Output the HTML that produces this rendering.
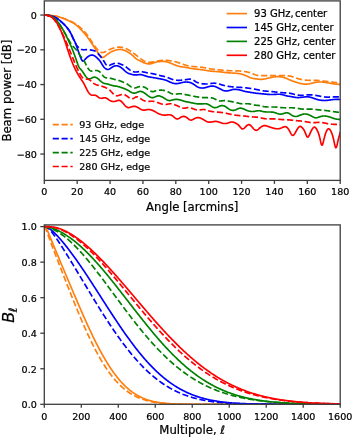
<!DOCTYPE html>
<html lang="en"><head><meta charset="utf-8"><title>Beam profiles</title>
<style>html,body{margin:0;padding:0;background:#fff;}body{width:352px;height:439px;overflow:hidden;}</style>
</head><body>
<svg width="352" height="439" viewBox="0 0 352 439" style="display:block;font-family:'DejaVu Sans', 'Liberation Sans', sans-serif">
<rect width="352" height="439" fill="#ffffff"/>
<defs>
<clipPath id="ct"><rect x="44.3" y="0.9" width="295.9" height="179.5"/></clipPath>
<clipPath id="cb"><rect x="44.3" y="224.9" width="295.9" height="179.4"/></clipPath>
</defs>
<g clip-path="url(#ct)" fill="none" stroke-width="1.67" stroke-linejoin="round">
<path d="M44.30,15.05 L44.80,15.07 L45.30,15.09 L45.80,15.10 L46.30,15.12 L46.80,15.15 L47.30,15.17 L47.80,15.19 L48.30,15.22 L48.80,15.25 L49.30,15.29 L49.80,15.32 L50.30,15.36 L50.80,15.41 L51.30,15.46 L51.80,15.51 L52.30,15.57 L52.80,15.64 L53.30,15.71 L53.80,15.79 L54.30,15.87 L54.80,15.96 L55.30,16.06 L55.80,16.16 L56.30,16.27 L56.80,16.38 L57.30,16.50 L57.80,16.63 L58.30,16.76 L58.80,16.90 L59.30,17.05 L59.80,17.20 L60.30,17.35 L60.80,17.52 L61.30,17.69 L61.80,17.86 L62.30,18.04 L62.80,18.22 L63.30,18.40 L63.80,18.59 L64.30,18.79 L64.80,18.98 L65.30,19.18 L65.80,19.38 L66.30,19.59 L66.80,19.79 L67.30,20.01 L67.80,20.22 L68.30,20.44 L68.80,20.67 L69.30,20.90 L69.80,21.14 L70.30,21.39 L70.80,21.64 L71.30,21.90 L71.80,22.17 L72.30,22.44 L72.80,22.73 L73.30,23.03 L73.80,23.34 L74.30,23.67 L74.80,24.01 L75.30,24.37 L75.80,24.74 L76.30,25.14 L76.80,25.55 L77.30,25.99 L77.80,26.44 L78.30,26.90 L78.80,27.38 L79.30,27.87 L79.80,28.37 L80.30,28.87 L80.80,29.39 L81.30,29.91 L81.80,30.44 L82.30,30.98 L82.80,31.53 L83.30,32.08 L83.80,32.65 L84.30,33.23 L84.80,33.82 L85.30,34.43 L85.80,35.05 L86.30,35.68 L86.80,36.34 L87.30,37.01 L87.80,37.69 L88.30,38.38 L88.80,39.09 L89.30,39.81 L89.80,40.53 L90.30,41.26 L90.80,42.00 L91.30,42.75 L91.80,43.50 L92.30,44.25 L92.80,45.00 L93.30,45.75 L93.80,46.51 L94.30,47.26 L94.80,48.01 L95.30,48.76 L95.80,49.50 L96.30,50.24 L96.80,50.97 L97.30,51.69 L97.80,52.40 L98.30,53.09 L98.80,53.77 L99.30,54.42 L99.80,55.05 L100.30,55.66 L100.80,56.22 L101.30,56.70 L101.80,57.08 L102.30,57.32 L102.80,57.40 L103.30,57.30 L103.80,57.07 L104.30,56.74 L104.80,56.38 L105.30,55.99 L105.80,55.60 L106.30,55.20 L106.80,54.81 L107.30,54.43 L107.80,54.06 L108.30,53.70 L108.80,53.35 L109.30,53.02 L109.80,52.70 L110.30,52.39 L110.80,52.11 L111.30,51.84 L111.80,51.59 L112.30,51.36 L112.80,51.15 L113.30,50.94 L113.80,50.76 L114.30,50.58 L114.80,50.42 L115.30,50.27 L115.80,50.13 L116.30,50.00 L116.80,49.88 L117.30,49.76 L117.80,49.66 L118.30,49.58 L118.80,49.51 L119.30,49.46 L119.80,49.43 L120.30,49.42 L120.80,49.45 L121.30,49.50 L121.80,49.58 L122.30,49.69 L122.80,49.83 L123.30,49.99 L123.80,50.17 L124.30,50.37 L124.80,50.59 L125.30,50.82 L125.80,51.05 L126.30,51.30 L126.80,51.55 L127.30,51.81 L127.80,52.08 L128.30,52.36 L128.80,52.65 L129.30,52.96 L129.80,53.29 L130.30,53.63 L130.80,54.00 L131.30,54.40 L131.80,54.82 L132.30,55.26 L132.80,55.72 L133.30,56.18 L133.80,56.65 L134.30,57.11 L134.80,57.56 L135.30,58.00 L135.80,58.41 L136.30,58.80 L136.80,59.15 L137.30,59.47 L137.80,59.77 L138.30,60.05 L138.80,60.31 L139.30,60.56 L139.80,60.80 L140.30,61.05 L140.80,61.29 L141.30,61.53 L141.80,61.77 L142.30,62.01 L142.80,62.24 L143.30,62.46 L143.80,62.67 L144.30,62.87 L144.80,63.06 L145.30,63.24 L145.80,63.40 L146.30,63.55 L146.80,63.67 L147.30,63.78 L147.80,63.86 L148.30,63.91 L148.80,63.94 L149.30,63.94 L149.80,63.91 L150.30,63.85 L150.80,63.75 L151.30,63.63 L151.80,63.49 L152.30,63.34 L152.80,63.18 L153.30,63.00 L153.80,62.83 L154.30,62.66 L154.80,62.50 L155.30,62.35 L155.80,62.21 L156.30,62.09 L156.80,61.97 L157.30,61.87 L157.80,61.78 L158.30,61.69 L158.80,61.62 L159.30,61.56 L159.80,61.50 L160.30,61.45 L160.80,61.41 L161.30,61.38 L161.80,61.37 L162.30,61.36 L162.80,61.36 L163.30,61.38 L163.80,61.41 L164.30,61.45 L164.80,61.51 L165.30,61.59 L165.80,61.68 L166.30,61.78 L166.80,61.90 L167.30,62.03 L167.80,62.17 L168.30,62.32 L168.80,62.48 L169.30,62.66 L169.80,62.84 L170.30,63.03 L170.80,63.22 L171.30,63.43 L171.80,63.63 L172.30,63.84 L172.80,64.05 L173.30,64.26 L173.80,64.47 L174.30,64.68 L174.80,64.88 L175.30,65.08 L175.80,65.27 L176.30,65.45 L176.80,65.62 L177.30,65.79 L177.80,65.95 L178.30,66.09 L178.80,66.23 L179.30,66.35 L179.80,66.47 L180.30,66.57 L180.80,66.66 L181.30,66.74 L181.80,66.82 L182.30,66.89 L182.80,66.96 L183.30,67.03 L183.80,67.10 L184.30,67.17 L184.80,67.25 L185.30,67.33 L185.80,67.41 L186.30,67.50 L186.80,67.60 L187.30,67.69 L187.80,67.79 L188.30,67.88 L188.80,67.98 L189.30,68.08 L189.80,68.18 L190.30,68.27 L190.80,68.37 L191.30,68.46 L191.80,68.55 L192.30,68.64 L192.80,68.72 L193.30,68.80 L193.80,68.87 L194.30,68.94 L194.80,69.01 L195.30,69.07 L195.80,69.12 L196.30,69.18 L196.80,69.23 L197.30,69.28 L197.80,69.32 L198.30,69.37 L198.80,69.42 L199.30,69.47 L199.80,69.52 L200.30,69.57 L200.80,69.63 L201.30,69.69 L201.80,69.75 L202.30,69.81 L202.80,69.88 L203.30,69.96 L203.80,70.04 L204.30,70.12 L204.80,70.21 L205.30,70.29 L205.80,70.38 L206.30,70.46 L206.80,70.55 L207.30,70.63 L207.80,70.72 L208.30,70.80 L208.80,70.87 L209.30,70.95 L209.80,71.01 L210.30,71.08 L210.80,71.13 L211.30,71.18 L211.80,71.23 L212.30,71.27 L212.80,71.31 L213.30,71.34 L213.80,71.38 L214.30,71.41 L214.80,71.43 L215.30,71.46 L215.80,71.49 L216.30,71.52 L216.80,71.55 L217.30,71.59 L217.80,71.62 L218.30,71.66 L218.80,71.71 L219.30,71.76 L219.80,71.81 L220.30,71.87 L220.80,71.93 L221.30,71.99 L221.80,72.06 L222.30,72.13 L222.80,72.19 L223.30,72.26 L223.80,72.33 L224.30,72.39 L224.80,72.45 L225.30,72.52 L225.80,72.57 L226.30,72.63 L226.80,72.68 L227.30,72.73 L227.80,72.77 L228.30,72.81 L228.80,72.84 L229.30,72.87 L229.80,72.90 L230.30,72.93 L230.80,72.96 L231.30,72.98 L231.80,73.00 L232.30,73.03 L232.80,73.05 L233.30,73.08 L233.80,73.11 L234.30,73.14 L234.80,73.17 L235.30,73.21 L235.80,73.25 L236.30,73.29 L236.80,73.34 L237.30,73.40 L237.80,73.46 L238.30,73.52 L238.80,73.60 L239.30,73.68 L239.80,73.77 L240.30,73.87 L240.80,73.97 L241.30,74.09 L241.80,74.22 L242.30,74.36 L242.80,74.51 L243.30,74.67 L243.80,74.84 L244.30,75.02 L244.80,75.22 L245.30,75.42 L245.80,75.63 L246.30,75.85 L246.80,76.07 L247.30,76.30 L247.80,76.53 L248.30,76.76 L248.80,76.98 L249.30,77.20 L249.80,77.41 L250.30,77.62 L250.80,77.81 L251.30,77.98 L251.80,78.14 L252.30,78.28 L252.80,78.40 L253.30,78.51 L253.80,78.60 L254.30,78.68 L254.80,78.75 L255.30,78.81 L255.80,78.88 L256.30,78.94 L256.80,79.00 L257.30,79.06 L257.80,79.12 L258.30,79.17 L258.80,79.22 L259.30,79.26 L259.80,79.30 L260.30,79.32 L260.80,79.34 L261.30,79.34 L261.80,79.33 L262.30,79.30 L262.80,79.26 L263.30,79.20 L263.80,79.13 L264.30,79.05 L264.80,78.95 L265.30,78.85 L265.80,78.75 L266.30,78.63 L266.80,78.51 L267.30,78.39 L267.80,78.27 L268.30,78.15 L268.80,78.03 L269.30,77.91 L269.80,77.80 L270.30,77.69 L270.80,77.58 L271.30,77.48 L271.80,77.38 L272.30,77.28 L272.80,77.19 L273.30,77.11 L273.80,77.03 L274.30,76.96 L274.80,76.90 L275.30,76.84 L275.80,76.79 L276.30,76.75 L276.80,76.72 L277.30,76.70 L277.80,76.69 L278.30,76.68 L278.80,76.69 L279.30,76.71 L279.80,76.75 L280.30,76.80 L280.80,76.86 L281.30,76.93 L281.80,77.02 L282.30,77.13 L282.80,77.24 L283.30,77.37 L283.80,77.51 L284.30,77.67 L284.80,77.83 L285.30,78.01 L285.80,78.19 L286.30,78.39 L286.80,78.59 L287.30,78.80 L287.80,79.02 L288.30,79.24 L288.80,79.47 L289.30,79.69 L289.80,79.91 L290.30,80.13 L290.80,80.34 L291.30,80.54 L291.80,80.74 L292.30,80.93 L292.80,81.11 L293.30,81.29 L293.80,81.47 L294.30,81.64 L294.80,81.81 L295.30,81.98 L295.80,82.14 L296.30,82.30 L296.80,82.46 L297.30,82.62 L297.80,82.77 L298.30,82.92 L298.80,83.06 L299.30,83.20 L299.80,83.33 L300.30,83.46 L300.80,83.58 L301.30,83.68 L301.80,83.78 L302.30,83.87 L302.80,83.94 L303.30,84.01 L303.80,84.06 L304.30,84.10 L304.80,84.13 L305.30,84.14 L305.80,84.15 L306.30,84.14 L306.80,84.11 L307.30,84.08 L307.80,84.03 L308.30,83.97 L308.80,83.90 L309.30,83.81 L309.80,83.72 L310.30,83.61 L310.80,83.50 L311.30,83.38 L311.80,83.26 L312.30,83.13 L312.80,83.01 L313.30,82.88 L313.80,82.76 L314.30,82.65 L314.80,82.54 L315.30,82.44 L315.80,82.35 L316.30,82.27 L316.80,82.20 L317.30,82.14 L317.80,82.09 L318.30,82.05 L318.80,82.02 L319.30,81.99 L319.80,81.98 L320.30,81.98 L320.80,81.98 L321.30,82.00 L321.80,82.03 L322.30,82.06 L322.80,82.10 L323.30,82.15 L323.80,82.21 L324.30,82.28 L324.80,82.35 L325.30,82.42 L325.80,82.50 L326.30,82.59 L326.80,82.67 L327.30,82.76 L327.80,82.86 L328.30,82.95 L328.80,83.04 L329.30,83.14 L329.80,83.23 L330.30,83.33 L330.80,83.42 L331.30,83.51 L331.80,83.60 L332.30,83.68 L332.80,83.76 L333.30,83.83 L333.80,83.90 L334.30,83.96 L334.80,84.02 L335.30,84.07 L335.80,84.12 L336.30,84.16 L336.80,84.20 L337.30,84.23 L337.80,84.27 L338.30,84.30 L338.80,84.33 L339.30,84.35 L339.80,84.38 L340.20,84.40" stroke="#ff7f0e" stroke-linecap="square"/>
<path d="M44.30,15.05 L44.80,15.07 L45.30,15.08 L45.80,15.10 L46.30,15.12 L46.80,15.14 L47.30,15.17 L47.80,15.19 L48.30,15.22 L48.80,15.25 L49.30,15.28 L49.80,15.32 L50.30,15.36 L50.80,15.41 L51.30,15.46 L51.80,15.51 L52.30,15.57 L52.80,15.64 L53.30,15.71 L53.80,15.79 L54.30,15.88 L54.80,15.97 L55.30,16.07 L55.80,16.17 L56.30,16.28 L56.80,16.39 L57.30,16.51 L57.80,16.63 L58.30,16.76 L58.80,16.90 L59.30,17.04 L59.80,17.19 L60.30,17.34 L60.80,17.50 L61.30,17.66 L61.80,17.82 L62.30,17.99 L62.80,18.16 L63.30,18.34 L63.80,18.52 L64.30,18.70 L64.80,18.89 L65.30,19.08 L65.80,19.27 L66.30,19.46 L66.80,19.66 L67.30,19.86 L67.80,20.06 L68.30,20.27 L68.80,20.48 L69.30,20.70 L69.80,20.91 L70.30,21.14 L70.80,21.37 L71.30,21.60 L71.80,21.84 L72.30,22.08 L72.80,22.33 L73.30,22.60 L73.80,22.87 L74.30,23.15 L74.80,23.44 L75.30,23.75 L75.80,24.07 L76.30,24.40 L76.80,24.76 L77.30,25.12 L77.80,25.50 L78.30,25.90 L78.80,26.30 L79.30,26.72 L79.80,27.14 L80.30,27.58 L80.80,28.02 L81.30,28.47 L81.80,28.93 L82.30,29.40 L82.80,29.88 L83.30,30.38 L83.80,30.89 L84.30,31.42 L84.80,31.97 L85.30,32.55 L85.80,33.15 L86.30,33.77 L86.80,34.41 L87.30,35.08 L87.80,35.76 L88.30,36.46 L88.80,37.17 L89.30,37.90 L89.80,38.65 L90.30,39.41 L90.80,40.17 L91.30,40.94 L91.80,41.71 L92.30,42.47 L92.80,43.23 L93.30,43.98 L93.80,44.71 L94.30,45.43 L94.80,46.12 L95.30,46.79 L95.80,47.44 L96.30,48.07 L96.80,48.67 L97.30,49.24 L97.80,49.79 L98.30,50.31 L98.80,50.79 L99.30,51.22 L99.80,51.61 L100.30,51.94 L100.80,52.20 L101.30,52.39 L101.80,52.50 L102.30,52.55 L102.80,52.53 L103.30,52.44 L103.80,52.30 L104.30,52.12 L104.80,51.90 L105.30,51.65 L105.80,51.39 L106.30,51.11 L106.80,50.84 L107.30,50.57 L107.80,50.32 L108.30,50.07 L108.80,49.84 L109.30,49.62 L109.80,49.41 L110.30,49.21 L110.80,49.01 L111.30,48.83 L111.80,48.65 L112.30,48.48 L112.80,48.32 L113.30,48.17 L113.80,48.02 L114.30,47.89 L114.80,47.76 L115.30,47.64 L115.80,47.54 L116.30,47.44 L116.80,47.36 L117.30,47.29 L117.80,47.24 L118.30,47.20 L118.80,47.17 L119.30,47.16 L119.80,47.17 L120.30,47.19 L120.80,47.22 L121.30,47.28 L121.80,47.35 L122.30,47.44 L122.80,47.55 L123.30,47.67 L123.80,47.81 L124.30,47.97 L124.80,48.15 L125.30,48.34 L125.80,48.55 L126.30,48.77 L126.80,49.00 L127.30,49.25 L127.80,49.50 L128.30,49.77 L128.80,50.06 L129.30,50.35 L129.80,50.65 L130.30,50.96 L130.80,51.28 L131.30,51.61 L131.80,51.94 L132.30,52.29 L132.80,52.64 L133.30,53.00 L133.80,53.37 L134.30,53.74 L134.80,54.11 L135.30,54.50 L135.80,54.88 L136.30,55.27 L136.80,55.66 L137.30,56.06 L137.80,56.46 L138.30,56.86 L138.80,57.26 L139.30,57.65 L139.80,58.05 L140.30,58.43 L140.80,58.80 L141.30,59.17 L141.80,59.52 L142.30,59.85 L142.80,60.17 L143.30,60.47 L143.80,60.76 L144.30,61.02 L144.80,61.26 L145.30,61.47 L145.80,61.66 L146.30,61.82 L146.80,61.96 L147.30,62.08 L147.80,62.17 L148.30,62.24 L148.80,62.28 L149.30,62.30 L149.80,62.30 L150.30,62.28 L150.80,62.23 L151.30,62.17 L151.80,62.10 L152.30,62.01 L152.80,61.91 L153.30,61.81 L153.80,61.71 L154.30,61.60 L154.80,61.50 L155.30,61.40 L155.80,61.31 L156.30,61.23 L156.80,61.15 L157.30,61.07 L157.80,60.99 L158.30,60.92 L158.80,60.85 L159.30,60.77 L159.80,60.70 L160.30,60.63 L160.80,60.55 L161.30,60.48 L161.80,60.41 L162.30,60.35 L162.80,60.30 L163.30,60.26 L163.80,60.22 L164.30,60.20 L164.80,60.20 L165.30,60.21 L165.80,60.24 L166.30,60.27 L166.80,60.32 L167.30,60.38 L167.80,60.44 L168.30,60.51 L168.80,60.57 L169.30,60.64 L169.80,60.71 L170.30,60.78 L170.80,60.85 L171.30,60.91 L171.80,60.98 L172.30,61.06 L172.80,61.14 L173.30,61.22 L173.80,61.32 L174.30,61.43 L174.80,61.55 L175.30,61.68 L175.80,61.83 L176.30,61.98 L176.80,62.14 L177.30,62.31 L177.80,62.49 L178.30,62.67 L178.80,62.85 L179.30,63.03 L179.80,63.21 L180.30,63.39 L180.80,63.56 L181.30,63.74 L181.80,63.91 L182.30,64.08 L182.80,64.25 L183.30,64.41 L183.80,64.57 L184.30,64.74 L184.80,64.89 L185.30,65.05 L185.80,65.20 L186.30,65.35 L186.80,65.49 L187.30,65.63 L187.80,65.75 L188.30,65.87 L188.80,65.98 L189.30,66.08 L189.80,66.17 L190.30,66.25 L190.80,66.32 L191.30,66.38 L191.80,66.43 L192.30,66.47 L192.80,66.52 L193.30,66.55 L193.80,66.59 L194.30,66.62 L194.80,66.65 L195.30,66.68 L195.80,66.71 L196.30,66.74 L196.80,66.77 L197.30,66.81 L197.80,66.84 L198.30,66.88 L198.80,66.92 L199.30,66.96 L199.80,67.01 L200.30,67.06 L200.80,67.11 L201.30,67.17 L201.80,67.24 L202.30,67.32 L202.80,67.40 L203.30,67.48 L203.80,67.57 L204.30,67.67 L204.80,67.77 L205.30,67.87 L205.80,67.97 L206.30,68.08 L206.80,68.18 L207.30,68.29 L207.80,68.39 L208.30,68.49 L208.80,68.59 L209.30,68.69 L209.80,68.78 L210.30,68.87 L210.80,68.95 L211.30,69.02 L211.80,69.09 L212.30,69.16 L212.80,69.22 L213.30,69.28 L213.80,69.33 L214.30,69.39 L214.80,69.44 L215.30,69.48 L215.80,69.53 L216.30,69.58 L216.80,69.62 L217.30,69.67 L217.80,69.71 L218.30,69.76 L218.80,69.81 L219.30,69.86 L219.80,69.91 L220.30,69.97 L220.80,70.02 L221.30,70.07 L221.80,70.13 L222.30,70.18 L222.80,70.24 L223.30,70.29 L223.80,70.34 L224.30,70.39 L224.80,70.43 L225.30,70.48 L225.80,70.52 L226.30,70.55 L226.80,70.59 L227.30,70.62 L227.80,70.64 L228.30,70.66 L228.80,70.68 L229.30,70.70 L229.80,70.71 L230.30,70.72 L230.80,70.73 L231.30,70.73 L231.80,70.74 L232.30,70.75 L232.80,70.75 L233.30,70.76 L233.80,70.77 L234.30,70.78 L234.80,70.79 L235.30,70.80 L235.80,70.82 L236.30,70.84 L236.80,70.86 L237.30,70.88 L237.80,70.91 L238.30,70.94 L238.80,70.97 L239.30,71.00 L239.80,71.04 L240.30,71.08 L240.80,71.12 L241.30,71.17 L241.80,71.22 L242.30,71.27 L242.80,71.33 L243.30,71.39 L243.80,71.45 L244.30,71.52 L244.80,71.59 L245.30,71.66 L245.80,71.74 L246.30,71.83 L246.80,71.92 L247.30,72.02 L247.80,72.13 L248.30,72.24 L248.80,72.36 L249.30,72.50 L249.80,72.64 L250.30,72.79 L250.80,72.96 L251.30,73.13 L251.80,73.32 L252.30,73.52 L252.80,73.73 L253.30,73.95 L253.80,74.16 L254.30,74.37 L254.80,74.58 L255.30,74.77 L255.80,74.94 L256.30,75.09 L256.80,75.21 L257.30,75.31 L257.80,75.40 L258.30,75.46 L258.80,75.51 L259.30,75.55 L259.80,75.58 L260.30,75.59 L260.80,75.60 L261.30,75.60 L261.80,75.60 L262.30,75.60 L262.80,75.60 L263.30,75.60 L263.80,75.60 L264.30,75.60 L264.80,75.60 L265.30,75.60 L265.80,75.60 L266.30,75.60 L266.80,75.60 L267.30,75.60 L267.80,75.60 L268.30,75.60 L268.80,75.60 L269.30,75.60 L269.80,75.60 L270.30,75.60 L270.80,75.60 L271.30,75.60 L271.80,75.60 L272.30,75.60 L272.80,75.60 L273.30,75.60 L273.80,75.60 L274.30,75.60 L274.80,75.60 L275.30,75.60 L275.80,75.60 L276.30,75.60 L276.80,75.59 L277.30,75.59 L277.80,75.59 L278.30,75.59 L278.80,75.59 L279.30,75.59 L279.80,75.59 L280.30,75.59 L280.80,75.60 L281.30,75.60 L281.80,75.61 L282.30,75.61 L282.80,75.62 L283.30,75.63 L283.80,75.65 L284.30,75.66 L284.80,75.68 L285.30,75.70 L285.80,75.72 L286.30,75.74 L286.80,75.77 L287.30,75.80 L287.80,75.83 L288.30,75.88 L288.80,75.93 L289.30,75.99 L289.80,76.06 L290.30,76.16 L290.80,76.27 L291.30,76.40 L291.80,76.54 L292.30,76.70 L292.80,76.86 L293.30,77.03 L293.80,77.21 L294.30,77.39 L294.80,77.57 L295.30,77.75 L295.80,77.93 L296.30,78.10 L296.80,78.27 L297.30,78.43 L297.80,78.58 L298.30,78.73 L298.80,78.87 L299.30,79.00 L299.80,79.13 L300.30,79.25 L300.80,79.36 L301.30,79.47 L301.80,79.57 L302.30,79.66 L302.80,79.75 L303.30,79.83 L303.80,79.90 L304.30,79.97 L304.80,80.03 L305.30,80.09 L305.80,80.13 L306.30,80.18 L306.80,80.21 L307.30,80.24 L307.80,80.27 L308.30,80.29 L308.80,80.30 L309.30,80.31 L309.80,80.31 L310.30,80.31 L310.80,80.31 L311.30,80.30 L311.80,80.30 L312.30,80.29 L312.80,80.29 L313.30,80.29 L313.80,80.29 L314.30,80.29 L314.80,80.30 L315.30,80.31 L315.80,80.33 L316.30,80.35 L316.80,80.38 L317.30,80.41 L317.80,80.45 L318.30,80.49 L318.80,80.53 L319.30,80.58 L319.80,80.63 L320.30,80.68 L320.80,80.74 L321.30,80.80 L321.80,80.86 L322.30,80.92 L322.80,80.99 L323.30,81.05 L323.80,81.12 L324.30,81.19 L324.80,81.25 L325.30,81.32 L325.80,81.38 L326.30,81.45 L326.80,81.51 L327.30,81.58 L327.80,81.64 L328.30,81.70 L328.80,81.75 L329.30,81.81 L329.80,81.86 L330.30,81.92 L330.80,81.97 L331.30,82.03 L331.80,82.08 L332.30,82.13 L332.80,82.19 L333.30,82.24 L333.80,82.30 L334.30,82.36 L334.80,82.42 L335.30,82.48 L335.80,82.54 L336.30,82.60 L336.80,82.66 L337.30,82.72 L337.80,82.79 L338.30,82.85 L338.80,82.92 L339.30,82.98 L339.80,83.05 L340.20,83.10" stroke="#ff7f0e" stroke-dasharray="6.17 2.67"/>
<path d="M44.30,15.05 L44.80,15.08 L45.30,15.12 L45.80,15.15 L46.30,15.19 L46.80,15.23 L47.30,15.28 L47.80,15.33 L48.30,15.39 L48.80,15.46 L49.30,15.54 L49.80,15.62 L50.30,15.72 L50.80,15.83 L51.30,15.95 L51.80,16.09 L52.30,16.24 L52.80,16.40 L53.30,16.58 L53.80,16.78 L54.30,16.99 L54.80,17.22 L55.30,17.47 L55.80,17.74 L56.30,18.02 L56.80,18.32 L57.30,18.64 L57.80,18.97 L58.30,19.33 L58.80,19.70 L59.30,20.09 L59.80,20.50 L60.30,20.93 L60.80,21.36 L61.30,21.82 L61.80,22.28 L62.30,22.75 L62.80,23.23 L63.30,23.72 L63.80,24.21 L64.30,24.70 L64.80,25.20 L65.30,25.70 L65.80,26.21 L66.30,26.74 L66.80,27.29 L67.30,27.87 L67.80,28.50 L68.30,29.16 L68.80,29.88 L69.30,30.66 L69.80,31.50 L70.30,32.41 L70.80,33.41 L71.30,34.47 L71.80,35.58 L72.30,36.70 L72.80,37.78 L73.30,38.81 L73.80,39.74 L74.30,40.63 L74.80,41.55 L75.30,42.57 L75.80,43.78 L76.30,45.14 L76.80,46.61 L77.30,48.14 L77.80,49.66 L78.30,51.16 L78.80,52.63 L79.30,54.06 L79.80,55.44 L80.30,56.78 L80.80,58.03 L81.30,59.14 L81.80,60.05 L82.30,60.70 L82.80,61.04 L83.30,61.04 L83.80,60.77 L84.30,60.30 L84.80,59.73 L85.30,59.12 L85.80,58.55 L86.30,58.03 L86.80,57.57 L87.30,57.15 L87.80,56.77 L88.30,56.43 L88.80,56.12 L89.30,55.84 L89.80,55.59 L90.30,55.39 L90.80,55.24 L91.30,55.13 L91.80,55.09 L92.30,55.10 L92.80,55.17 L93.30,55.30 L93.80,55.49 L94.30,55.73 L94.80,56.03 L95.30,56.38 L95.80,56.78 L96.30,57.21 L96.80,57.67 L97.30,58.16 L97.80,58.65 L98.30,59.15 L98.80,59.66 L99.30,60.21 L99.80,60.80 L100.30,61.45 L100.80,62.18 L101.30,63.00 L101.80,63.88 L102.30,64.76 L102.80,65.58 L103.30,66.31 L103.80,66.95 L104.30,67.52 L104.80,68.02 L105.30,68.45 L105.80,68.82 L106.30,69.12 L106.80,69.34 L107.30,69.48 L107.80,69.52 L108.30,69.47 L108.80,69.32 L109.30,69.10 L109.80,68.82 L110.30,68.50 L110.80,68.15 L111.30,67.80 L111.80,67.46 L112.30,67.14 L112.80,66.83 L113.30,66.56 L113.80,66.32 L114.30,66.11 L114.80,65.95 L115.30,65.84 L115.80,65.77 L116.30,65.75 L116.80,65.78 L117.30,65.85 L117.80,65.96 L118.30,66.11 L118.80,66.30 L119.30,66.53 L119.80,66.79 L120.30,67.08 L120.80,67.41 L121.30,67.76 L121.80,68.14 L122.30,68.55 L122.80,68.97 L123.30,69.42 L123.80,69.87 L124.30,70.32 L124.80,70.77 L125.30,71.20 L125.80,71.62 L126.30,72.00 L126.80,72.35 L127.30,72.66 L127.80,72.95 L128.30,73.20 L128.80,73.43 L129.30,73.64 L129.80,73.83 L130.30,74.00 L130.80,74.15 L131.30,74.30 L131.80,74.44 L132.30,74.56 L132.80,74.67 L133.30,74.77 L133.80,74.84 L134.30,74.90 L134.80,74.93 L135.30,74.94 L135.80,74.94 L136.30,74.91 L136.80,74.88 L137.30,74.83 L137.80,74.78 L138.30,74.72 L138.80,74.66 L139.30,74.62 L139.80,74.59 L140.30,74.59 L140.80,74.62 L141.30,74.68 L141.80,74.77 L142.30,74.89 L142.80,75.02 L143.30,75.18 L143.80,75.34 L144.30,75.51 L144.80,75.69 L145.30,75.87 L145.80,76.04 L146.30,76.21 L146.80,76.36 L147.30,76.50 L147.80,76.63 L148.30,76.75 L148.80,76.86 L149.30,76.96 L149.80,77.05 L150.30,77.14 L150.80,77.22 L151.30,77.30 L151.80,77.38 L152.30,77.46 L152.80,77.54 L153.30,77.62 L153.80,77.70 L154.30,77.78 L154.80,77.87 L155.30,77.96 L155.80,78.05 L156.30,78.15 L156.80,78.24 L157.30,78.33 L157.80,78.43 L158.30,78.52 L158.80,78.62 L159.30,78.71 L159.80,78.80 L160.30,78.89 L160.80,78.98 L161.30,79.07 L161.80,79.17 L162.30,79.26 L162.80,79.37 L163.30,79.48 L163.80,79.60 L164.30,79.73 L164.80,79.86 L165.30,80.02 L165.80,80.18 L166.30,80.36 L166.80,80.56 L167.30,80.77 L167.80,80.99 L168.30,81.22 L168.80,81.46 L169.30,81.69 L169.80,81.93 L170.30,82.16 L170.80,82.39 L171.30,82.60 L171.80,82.80 L172.30,82.98 L172.80,83.14 L173.30,83.28 L173.80,83.40 L174.30,83.49 L174.80,83.55 L175.30,83.60 L175.80,83.62 L176.30,83.63 L176.80,83.61 L177.30,83.57 L177.80,83.51 L178.30,83.44 L178.80,83.35 L179.30,83.24 L179.80,83.12 L180.30,83.00 L180.80,82.88 L181.30,82.75 L181.80,82.63 L182.30,82.51 L182.80,82.40 L183.30,82.30 L183.80,82.22 L184.30,82.15 L184.80,82.09 L185.30,82.05 L185.80,82.03 L186.30,82.02 L186.80,82.03 L187.30,82.06 L187.80,82.10 L188.30,82.16 L188.80,82.25 L189.30,82.35 L189.80,82.48 L190.30,82.63 L190.80,82.81 L191.30,83.00 L191.80,83.23 L192.30,83.48 L192.80,83.76 L193.30,84.06 L193.80,84.39 L194.30,84.73 L194.80,85.08 L195.30,85.43 L195.80,85.77 L196.30,86.10 L196.80,86.42 L197.30,86.71 L197.80,86.98 L198.30,87.22 L198.80,87.42 L199.30,87.60 L199.80,87.75 L200.30,87.87 L200.80,87.95 L201.30,88.01 L201.80,88.04 L202.30,88.05 L202.80,88.03 L203.30,87.98 L203.80,87.92 L204.30,87.83 L204.80,87.72 L205.30,87.60 L205.80,87.47 L206.30,87.33 L206.80,87.18 L207.30,87.03 L207.80,86.88 L208.30,86.74 L208.80,86.60 L209.30,86.47 L209.80,86.36 L210.30,86.27 L210.80,86.19 L211.30,86.13 L211.80,86.09 L212.30,86.07 L212.80,86.09 L213.30,86.13 L213.80,86.20 L214.30,86.30 L214.80,86.44 L215.30,86.60 L215.80,86.79 L216.30,86.99 L216.80,87.22 L217.30,87.46 L217.80,87.72 L218.30,87.98 L218.80,88.26 L219.30,88.53 L219.80,88.81 L220.30,89.08 L220.80,89.35 L221.30,89.61 L221.80,89.86 L222.30,90.08 L222.80,90.29 L223.30,90.47 L223.80,90.63 L224.30,90.75 L224.80,90.85 L225.30,90.91 L225.80,90.95 L226.30,90.96 L226.80,90.95 L227.30,90.91 L227.80,90.85 L228.30,90.76 L228.80,90.65 L229.30,90.53 L229.80,90.39 L230.30,90.24 L230.80,90.09 L231.30,89.93 L231.80,89.79 L232.30,89.65 L232.80,89.53 L233.30,89.43 L233.80,89.36 L234.30,89.31 L234.80,89.29 L235.30,89.29 L235.80,89.31 L236.30,89.35 L236.80,89.40 L237.30,89.48 L237.80,89.56 L238.30,89.66 L238.80,89.76 L239.30,89.88 L239.80,90.00 L240.30,90.13 L240.80,90.26 L241.30,90.39 L241.80,90.53 L242.30,90.67 L242.80,90.81 L243.30,90.94 L243.80,91.08 L244.30,91.21 L244.80,91.33 L245.30,91.45 L245.80,91.56 L246.30,91.66 L246.80,91.76 L247.30,91.85 L247.80,91.94 L248.30,92.03 L248.80,92.11 L249.30,92.19 L249.80,92.26 L250.30,92.34 L250.80,92.42 L251.30,92.49 L251.80,92.57 L252.30,92.65 L252.80,92.73 L253.30,92.80 L253.80,92.88 L254.30,92.96 L254.80,93.03 L255.30,93.11 L255.80,93.17 L256.30,93.24 L256.80,93.30 L257.30,93.35 L257.80,93.40 L258.30,93.45 L258.80,93.49 L259.30,93.54 L259.80,93.58 L260.30,93.62 L260.80,93.66 L261.30,93.71 L261.80,93.75 L262.30,93.80 L262.80,93.85 L263.30,93.90 L263.80,93.95 L264.30,94.01 L264.80,94.06 L265.30,94.12 L265.80,94.17 L266.30,94.22 L266.80,94.27 L267.30,94.31 L267.80,94.35 L268.30,94.39 L268.80,94.42 L269.30,94.44 L269.80,94.46 L270.30,94.48 L270.80,94.49 L271.30,94.49 L271.80,94.49 L272.30,94.49 L272.80,94.48 L273.30,94.47 L273.80,94.45 L274.30,94.43 L274.80,94.40 L275.30,94.37 L275.80,94.34 L276.30,94.31 L276.80,94.28 L277.30,94.25 L277.80,94.23 L278.30,94.22 L278.80,94.22 L279.30,94.23 L279.80,94.26 L280.30,94.30 L280.80,94.36 L281.30,94.43 L281.80,94.53 L282.30,94.64 L282.80,94.77 L283.30,94.91 L283.80,95.05 L284.30,95.20 L284.80,95.35 L285.30,95.50 L285.80,95.64 L286.30,95.77 L286.80,95.89 L287.30,96.00 L287.80,96.09 L288.30,96.17 L288.80,96.23 L289.30,96.30 L289.80,96.37 L290.30,96.45 L290.80,96.53 L291.30,96.63 L291.80,96.73 L292.30,96.83 L292.80,96.93 L293.30,97.03 L293.80,97.13 L294.30,97.22 L294.80,97.31 L295.30,97.38 L295.80,97.45 L296.30,97.50 L296.80,97.54 L297.30,97.56 L297.80,97.57 L298.30,97.56 L298.80,97.55 L299.30,97.52 L299.80,97.49 L300.30,97.45 L300.80,97.40 L301.30,97.35 L301.80,97.29 L302.30,97.23 L302.80,97.16 L303.30,97.10 L303.80,97.03 L304.30,96.97 L304.80,96.91 L305.30,96.87 L305.80,96.83 L306.30,96.80 L306.80,96.78 L307.30,96.78 L307.80,96.80 L308.30,96.84 L308.80,96.90 L309.30,96.98 L309.80,97.09 L310.30,97.21 L310.80,97.35 L311.30,97.50 L311.80,97.66 L312.30,97.83 L312.80,98.01 L313.30,98.19 L313.80,98.37 L314.30,98.55 L314.80,98.73 L315.30,98.90 L315.80,99.07 L316.30,99.22 L316.80,99.37 L317.30,99.51 L317.80,99.64 L318.30,99.76 L318.80,99.88 L319.30,99.98 L319.80,100.08 L320.30,100.16 L320.80,100.24 L321.30,100.30 L321.80,100.35 L322.30,100.40 L322.80,100.43 L323.30,100.45 L323.80,100.47 L324.30,100.47 L324.80,100.47 L325.30,100.46 L325.80,100.43 L326.30,100.40 L326.80,100.37 L327.30,100.32 L327.80,100.27 L328.30,100.21 L328.80,100.14 L329.30,100.07 L329.80,100.00 L330.30,99.93 L330.80,99.86 L331.30,99.79 L331.80,99.72 L332.30,99.66 L332.80,99.60 L333.30,99.54 L333.80,99.50 L334.30,99.46 L334.80,99.44 L335.30,99.42 L335.80,99.41 L336.30,99.40 L336.80,99.40 L337.30,99.41 L337.80,99.42 L338.30,99.43 L338.80,99.45 L339.30,99.46 L339.80,99.48 L340.20,99.50" stroke="#0000ff" stroke-linecap="square"/>
<path d="M44.30,15.05 L44.80,15.08 L45.30,15.11 L45.80,15.15 L46.30,15.19 L46.80,15.23 L47.30,15.27 L47.80,15.33 L48.30,15.39 L48.80,15.45 L49.30,15.53 L49.80,15.62 L50.30,15.71 L50.80,15.82 L51.30,15.95 L51.80,16.08 L52.30,16.23 L52.80,16.40 L53.30,16.59 L53.80,16.79 L54.30,17.00 L54.80,17.24 L55.30,17.49 L55.80,17.75 L56.30,18.04 L56.80,18.34 L57.30,18.65 L57.80,18.98 L58.30,19.33 L58.80,19.70 L59.30,20.08 L59.80,20.48 L60.30,20.90 L60.80,21.32 L61.30,21.77 L61.80,22.22 L62.30,22.69 L62.80,23.18 L63.30,23.67 L63.80,24.17 L64.30,24.69 L64.80,25.21 L65.30,25.75 L65.80,26.29 L66.30,26.86 L66.80,27.45 L67.30,28.06 L67.80,28.71 L68.30,29.38 L68.80,30.09 L69.30,30.85 L69.80,31.64 L70.30,32.49 L70.80,33.38 L71.30,34.33 L71.80,35.33 L72.30,36.37 L72.80,37.45 L73.30,38.57 L73.80,39.72 L74.30,40.87 L74.80,42.00 L75.30,43.07 L75.80,44.05 L76.30,44.91 L76.80,45.63 L77.30,46.23 L77.80,46.75 L78.30,47.19 L78.80,47.60 L79.30,47.99 L79.80,48.35 L80.30,48.69 L80.80,48.99 L81.30,49.25 L81.80,49.47 L82.30,49.63 L82.80,49.73 L83.30,49.79 L83.80,49.80 L84.30,49.79 L84.80,49.76 L85.30,49.71 L85.80,49.66 L86.30,49.62 L86.80,49.60 L87.30,49.60 L87.80,49.62 L88.30,49.66 L88.80,49.72 L89.30,49.79 L89.80,49.86 L90.30,49.94 L90.80,50.02 L91.30,50.10 L91.80,50.17 L92.30,50.25 L92.80,50.34 L93.30,50.45 L93.80,50.60 L94.30,50.79 L94.80,51.03 L95.30,51.32 L95.80,51.68 L96.30,52.07 L96.80,52.51 L97.30,52.99 L97.80,53.48 L98.30,54.01 L98.80,54.54 L99.30,55.09 L99.80,55.66 L100.30,56.25 L100.80,56.85 L101.30,57.47 L101.80,58.11 L102.30,58.77 L102.80,59.46 L103.30,60.19 L103.80,60.97 L104.30,61.81 L104.80,62.68 L105.30,63.53 L105.80,64.29 L106.30,64.90 L106.80,65.33 L107.30,65.58 L107.80,65.69 L108.30,65.67 L108.80,65.57 L109.30,65.40 L109.80,65.19 L110.30,64.97 L110.80,64.75 L111.30,64.53 L111.80,64.32 L112.30,64.12 L112.80,63.93 L113.30,63.76 L113.80,63.60 L114.30,63.46 L114.80,63.35 L115.30,63.25 L115.80,63.19 L116.30,63.15 L116.80,63.15 L117.30,63.18 L117.80,63.24 L118.30,63.34 L118.80,63.47 L119.30,63.63 L119.80,63.80 L120.30,63.99 L120.80,64.19 L121.30,64.40 L121.80,64.61 L122.30,64.83 L122.80,65.05 L123.30,65.29 L123.80,65.54 L124.30,65.81 L124.80,66.11 L125.30,66.43 L125.80,66.78 L126.30,67.16 L126.80,67.55 L127.30,67.94 L127.80,68.35 L128.30,68.75 L128.80,69.14 L129.30,69.53 L129.80,69.89 L130.30,70.23 L130.80,70.55 L131.30,70.83 L131.80,71.09 L132.30,71.31 L132.80,71.51 L133.30,71.67 L133.80,71.81 L134.30,71.91 L134.80,71.98 L135.30,72.01 L135.80,72.01 L136.30,71.99 L136.80,71.95 L137.30,71.89 L137.80,71.82 L138.30,71.76 L138.80,71.70 L139.30,71.64 L139.80,71.61 L140.30,71.60 L140.80,71.61 L141.30,71.65 L141.80,71.70 L142.30,71.77 L142.80,71.86 L143.30,71.96 L143.80,72.06 L144.30,72.18 L144.80,72.29 L145.30,72.41 L145.80,72.53 L146.30,72.64 L146.80,72.74 L147.30,72.84 L147.80,72.92 L148.30,73.01 L148.80,73.08 L149.30,73.16 L149.80,73.23 L150.30,73.31 L150.80,73.38 L151.30,73.46 L151.80,73.54 L152.30,73.63 L152.80,73.72 L153.30,73.82 L153.80,73.93 L154.30,74.05 L154.80,74.17 L155.30,74.30 L155.80,74.43 L156.30,74.57 L156.80,74.71 L157.30,74.84 L157.80,74.98 L158.30,75.12 L158.80,75.25 L159.30,75.38 L159.80,75.50 L160.30,75.62 L160.80,75.73 L161.30,75.84 L161.80,75.94 L162.30,76.05 L162.80,76.16 L163.30,76.27 L163.80,76.38 L164.30,76.50 L164.80,76.63 L165.30,76.76 L165.80,76.91 L166.30,77.07 L166.80,77.24 L167.30,77.42 L167.80,77.61 L168.30,77.81 L168.80,78.02 L169.30,78.22 L169.80,78.43 L170.30,78.63 L170.80,78.83 L171.30,79.03 L171.80,79.21 L172.30,79.38 L172.80,79.54 L173.30,79.68 L173.80,79.81 L174.30,79.92 L174.80,80.01 L175.30,80.09 L175.80,80.16 L176.30,80.21 L176.80,80.25 L177.30,80.28 L177.80,80.30 L178.30,80.31 L178.80,80.31 L179.30,80.31 L179.80,80.29 L180.30,80.27 L180.80,80.24 L181.30,80.20 L181.80,80.16 L182.30,80.11 L182.80,80.06 L183.30,80.00 L183.80,79.94 L184.30,79.87 L184.80,79.80 L185.30,79.73 L185.80,79.65 L186.30,79.57 L186.80,79.48 L187.30,79.40 L187.80,79.33 L188.30,79.27 L188.80,79.22 L189.30,79.19 L189.80,79.18 L190.30,79.20 L190.80,79.25 L191.30,79.34 L191.80,79.46 L192.30,79.63 L192.80,79.85 L193.30,80.11 L193.80,80.40 L194.30,80.72 L194.80,81.05 L195.30,81.37 L195.80,81.68 L196.30,81.96 L196.80,82.21 L197.30,82.44 L197.80,82.63 L198.30,82.81 L198.80,82.97 L199.30,83.12 L199.80,83.25 L200.30,83.37 L200.80,83.48 L201.30,83.57 L201.80,83.66 L202.30,83.73 L202.80,83.80 L203.30,83.85 L203.80,83.89 L204.30,83.93 L204.80,83.95 L205.30,83.97 L205.80,83.97 L206.30,83.97 L206.80,83.96 L207.30,83.93 L207.80,83.90 L208.30,83.85 L208.80,83.80 L209.30,83.74 L209.80,83.66 L210.30,83.59 L210.80,83.51 L211.30,83.44 L211.80,83.37 L212.30,83.31 L212.80,83.26 L213.30,83.22 L213.80,83.20 L214.30,83.20 L214.80,83.22 L215.30,83.26 L215.80,83.31 L216.30,83.38 L216.80,83.47 L217.30,83.56 L217.80,83.67 L218.30,83.80 L218.80,83.93 L219.30,84.07 L219.80,84.21 L220.30,84.37 L220.80,84.52 L221.30,84.68 L221.80,84.84 L222.30,84.99 L222.80,85.14 L223.30,85.29 L223.80,85.43 L224.30,85.56 L224.80,85.68 L225.30,85.79 L225.80,85.90 L226.30,86.00 L226.80,86.09 L227.30,86.18 L227.80,86.26 L228.30,86.34 L228.80,86.42 L229.30,86.48 L229.80,86.55 L230.30,86.61 L230.80,86.67 L231.30,86.73 L231.80,86.78 L232.30,86.84 L232.80,86.89 L233.30,86.93 L233.80,86.98 L234.30,87.02 L234.80,87.06 L235.30,87.10 L235.80,87.13 L236.30,87.17 L236.80,87.20 L237.30,87.23 L237.80,87.26 L238.30,87.29 L238.80,87.31 L239.30,87.34 L239.80,87.37 L240.30,87.39 L240.80,87.42 L241.30,87.45 L241.80,87.48 L242.30,87.52 L242.80,87.55 L243.30,87.59 L243.80,87.63 L244.30,87.68 L244.80,87.73 L245.30,87.78 L245.80,87.84 L246.30,87.89 L246.80,87.95 L247.30,88.02 L247.80,88.08 L248.30,88.15 L248.80,88.22 L249.30,88.29 L249.80,88.36 L250.30,88.44 L250.80,88.51 L251.30,88.59 L251.80,88.67 L252.30,88.75 L252.80,88.83 L253.30,88.91 L253.80,88.99 L254.30,89.08 L254.80,89.17 L255.30,89.26 L255.80,89.36 L256.30,89.46 L256.80,89.57 L257.30,89.67 L257.80,89.79 L258.30,89.90 L258.80,90.01 L259.30,90.12 L259.80,90.23 L260.30,90.33 L260.80,90.43 L261.30,90.53 L261.80,90.62 L262.30,90.70 L262.80,90.77 L263.30,90.84 L263.80,90.90 L264.30,90.96 L264.80,91.01 L265.30,91.05 L265.80,91.10 L266.30,91.14 L266.80,91.17 L267.30,91.21 L267.80,91.25 L268.30,91.28 L268.80,91.32 L269.30,91.36 L269.80,91.40 L270.30,91.45 L270.80,91.49 L271.30,91.54 L271.80,91.58 L272.30,91.63 L272.80,91.68 L273.30,91.73 L273.80,91.79 L274.30,91.84 L274.80,91.90 L275.30,91.96 L275.80,92.02 L276.30,92.08 L276.80,92.14 L277.30,92.20 L277.80,92.26 L278.30,92.31 L278.80,92.37 L279.30,92.43 L279.80,92.48 L280.30,92.53 L280.80,92.57 L281.30,92.62 L281.80,92.66 L282.30,92.69 L282.80,92.72 L283.30,92.75 L283.80,92.78 L284.30,92.81 L284.80,92.84 L285.30,92.87 L285.80,92.90 L286.30,92.93 L286.80,92.96 L287.30,93.00 L287.80,93.04 L288.30,93.08 L288.80,93.14 L289.30,93.20 L289.80,93.27 L290.30,93.35 L290.80,93.45 L291.30,93.56 L291.80,93.67 L292.30,93.80 L292.80,93.93 L293.30,94.06 L293.80,94.19 L294.30,94.32 L294.80,94.45 L295.30,94.57 L295.80,94.69 L296.30,94.80 L296.80,94.90 L297.30,94.99 L297.80,95.07 L298.30,95.13 L298.80,95.19 L299.30,95.24 L299.80,95.27 L300.30,95.30 L300.80,95.32 L301.30,95.32 L301.80,95.32 L302.30,95.31 L302.80,95.29 L303.30,95.25 L303.80,95.21 L304.30,95.17 L304.80,95.12 L305.30,95.07 L305.80,95.02 L306.30,94.97 L306.80,94.92 L307.30,94.88 L307.80,94.85 L308.30,94.82 L308.80,94.80 L309.30,94.79 L309.80,94.80 L310.30,94.81 L310.80,94.83 L311.30,94.86 L311.80,94.90 L312.30,94.95 L312.80,95.00 L313.30,95.06 L313.80,95.13 L314.30,95.20 L314.80,95.27 L315.30,95.35 L315.80,95.43 L316.30,95.51 L316.80,95.59 L317.30,95.68 L317.80,95.76 L318.30,95.85 L318.80,95.94 L319.30,96.03 L319.80,96.12 L320.30,96.22 L320.80,96.31 L321.30,96.40 L321.80,96.49 L322.30,96.58 L322.80,96.67 L323.30,96.75 L323.80,96.83 L324.30,96.91 L324.80,96.97 L325.30,97.04 L325.80,97.09 L326.30,97.13 L326.80,97.17 L327.30,97.19 L327.80,97.21 L328.30,97.21 L328.80,97.20 L329.30,97.18 L329.80,97.16 L330.30,97.13 L330.80,97.10 L331.30,97.07 L331.80,97.03 L332.30,96.99 L332.80,96.96 L333.30,96.93 L333.80,96.90 L334.30,96.88 L334.80,96.86 L335.30,96.85 L335.80,96.84 L336.30,96.84 L336.80,96.84 L337.30,96.84 L337.80,96.85 L338.30,96.86 L338.80,96.87 L339.30,96.88 L339.80,96.89 L340.20,96.90" stroke="#0000ff" stroke-dasharray="6.17 2.67"/>
<path d="M44.30,15.05 L44.80,15.08 L45.30,15.11 L45.80,15.14 L46.30,15.19 L46.80,15.23 L47.30,15.29 L47.80,15.36 L48.30,15.45 L48.80,15.55 L49.30,15.67 L49.80,15.81 L50.30,15.97 L50.80,16.16 L51.30,16.37 L51.80,16.61 L52.30,16.88 L52.80,17.19 L53.30,17.52 L53.80,17.89 L54.30,18.29 L54.80,18.72 L55.30,19.18 L55.80,19.67 L56.30,20.19 L56.80,20.74 L57.30,21.31 L57.80,21.92 L58.30,22.55 L58.80,23.20 L59.30,23.88 L59.80,24.59 L60.30,25.32 L60.80,26.07 L61.30,26.85 L61.80,27.66 L62.30,28.49 L62.80,29.34 L63.30,30.22 L63.80,31.13 L64.30,32.06 L64.80,33.02 L65.30,33.99 L65.80,35.00 L66.30,36.02 L66.80,37.05 L67.30,38.10 L67.80,39.16 L68.30,40.21 L68.80,41.27 L69.30,42.33 L69.80,43.41 L70.30,44.51 L70.80,45.63 L71.30,46.79 L71.80,47.98 L72.30,49.22 L72.80,50.49 L73.30,51.79 L73.80,53.12 L74.30,54.46 L74.80,55.81 L75.30,57.18 L75.80,58.57 L76.30,59.98 L76.80,61.42 L77.30,62.88 L77.80,64.33 L78.30,65.67 L78.80,66.80 L79.30,67.67 L79.80,68.34 L80.30,68.90 L80.80,69.43 L81.30,69.97 L81.80,70.55 L82.30,71.20 L82.80,71.93 L83.30,72.69 L83.80,73.48 L84.30,74.27 L84.80,75.03 L85.30,75.76 L85.80,76.44 L86.30,77.06 L86.80,77.61 L87.30,78.08 L87.80,78.45 L88.30,78.71 L88.80,78.87 L89.30,78.91 L89.80,78.84 L90.30,78.70 L90.80,78.49 L91.30,78.26 L91.80,78.01 L92.30,77.77 L92.80,77.55 L93.30,77.37 L93.80,77.23 L94.30,77.17 L94.80,77.18 L95.30,77.26 L95.80,77.40 L96.30,77.61 L96.80,77.88 L97.30,78.20 L97.80,78.57 L98.30,78.98 L98.80,79.41 L99.30,79.86 L99.80,80.32 L100.30,80.77 L100.80,81.20 L101.30,81.62 L101.80,82.01 L102.30,82.37 L102.80,82.69 L103.30,82.97 L103.80,83.20 L104.30,83.38 L104.80,83.52 L105.30,83.63 L105.80,83.71 L106.30,83.79 L106.80,83.87 L107.30,83.96 L107.80,84.07 L108.30,84.21 L108.80,84.36 L109.30,84.53 L109.80,84.70 L110.30,84.89 L110.80,85.06 L111.30,85.24 L111.80,85.40 L112.30,85.55 L112.80,85.67 L113.30,85.78 L113.80,85.87 L114.30,85.94 L114.80,86.01 L115.30,86.07 L115.80,86.13 L116.30,86.20 L116.80,86.27 L117.30,86.36 L117.80,86.46 L118.30,86.58 L118.80,86.72 L119.30,86.86 L119.80,87.02 L120.30,87.18 L120.80,87.36 L121.30,87.53 L121.80,87.71 L122.30,87.89 L122.80,88.07 L123.30,88.25 L123.80,88.43 L124.30,88.61 L124.80,88.80 L125.30,88.99 L125.80,89.20 L126.30,89.42 L126.80,89.65 L127.30,89.91 L127.80,90.18 L128.30,90.48 L128.80,90.80 L129.30,91.13 L129.80,91.46 L130.30,91.78 L130.80,92.08 L131.30,92.37 L131.80,92.62 L132.30,92.83 L132.80,93.00 L133.30,93.12 L133.80,93.19 L134.30,93.20 L134.80,93.15 L135.30,93.04 L135.80,92.89 L136.30,92.71 L136.80,92.50 L137.30,92.29 L137.80,92.07 L138.30,91.87 L138.80,91.69 L139.30,91.54 L139.80,91.44 L140.30,91.40 L140.80,91.42 L141.30,91.51 L141.80,91.66 L142.30,91.86 L142.80,92.10 L143.30,92.36 L143.80,92.65 L144.30,92.97 L144.80,93.30 L145.30,93.65 L145.80,94.02 L146.30,94.40 L146.80,94.79 L147.30,95.18 L147.80,95.56 L148.30,95.92 L148.80,96.27 L149.30,96.59 L149.80,96.88 L150.30,97.13 L150.80,97.34 L151.30,97.50 L151.80,97.60 L152.30,97.64 L152.80,97.62 L153.30,97.55 L153.80,97.44 L154.30,97.28 L154.80,97.09 L155.30,96.86 L155.80,96.62 L156.30,96.38 L156.80,96.16 L157.30,95.97 L157.80,95.84 L158.30,95.79 L158.80,95.81 L159.30,95.89 L159.80,96.03 L160.30,96.21 L160.80,96.41 L161.30,96.63 L161.80,96.86 L162.30,97.11 L162.80,97.36 L163.30,97.62 L163.80,97.91 L164.30,98.20 L164.80,98.51 L165.30,98.83 L165.80,99.14 L166.30,99.45 L166.80,99.73 L167.30,99.99 L167.80,100.22 L168.30,100.40 L168.80,100.53 L169.30,100.59 L169.80,100.59 L170.30,100.53 L170.80,100.43 L171.30,100.30 L171.80,100.16 L172.30,100.02 L172.80,99.89 L173.30,99.77 L173.80,99.66 L174.30,99.57 L174.80,99.49 L175.30,99.44 L175.80,99.40 L176.30,99.38 L176.80,99.39 L177.30,99.42 L177.80,99.48 L178.30,99.55 L178.80,99.64 L179.30,99.76 L179.80,99.88 L180.30,100.02 L180.80,100.16 L181.30,100.31 L181.80,100.47 L182.30,100.63 L182.80,100.79 L183.30,100.95 L183.80,101.10 L184.30,101.24 L184.80,101.38 L185.30,101.51 L185.80,101.62 L186.30,101.73 L186.80,101.84 L187.30,101.94 L187.80,102.03 L188.30,102.13 L188.80,102.22 L189.30,102.31 L189.80,102.40 L190.30,102.50 L190.80,102.60 L191.30,102.70 L191.80,102.81 L192.30,102.92 L192.80,103.03 L193.30,103.14 L193.80,103.25 L194.30,103.35 L194.80,103.45 L195.30,103.54 L195.80,103.63 L196.30,103.70 L196.80,103.77 L197.30,103.82 L197.80,103.86 L198.30,103.89 L198.80,103.91 L199.30,103.92 L199.80,103.92 L200.30,103.92 L200.80,103.90 L201.30,103.89 L201.80,103.87 L202.30,103.85 L202.80,103.82 L203.30,103.80 L203.80,103.78 L204.30,103.76 L204.80,103.75 L205.30,103.76 L205.80,103.79 L206.30,103.84 L206.80,103.93 L207.30,104.04 L207.80,104.20 L208.30,104.40 L208.80,104.65 L209.30,104.93 L209.80,105.25 L210.30,105.58 L210.80,105.92 L211.30,106.26 L211.80,106.58 L212.30,106.88 L212.80,107.14 L213.30,107.36 L213.80,107.53 L214.30,107.64 L214.80,107.69 L215.30,107.69 L215.80,107.64 L216.30,107.53 L216.80,107.38 L217.30,107.19 L217.80,106.97 L218.30,106.75 L218.80,106.51 L219.30,106.29 L219.80,106.08 L220.30,105.89 L220.80,105.75 L221.30,105.65 L221.80,105.60 L222.30,105.60 L222.80,105.65 L223.30,105.75 L223.80,105.89 L224.30,106.07 L224.80,106.30 L225.30,106.57 L225.80,106.87 L226.30,107.19 L226.80,107.53 L227.30,107.89 L227.80,108.24 L228.30,108.58 L228.80,108.91 L229.30,109.22 L229.80,109.50 L230.30,109.74 L230.80,109.94 L231.30,110.10 L231.80,110.23 L232.30,110.31 L232.80,110.35 L233.30,110.35 L233.80,110.31 L234.30,110.23 L234.80,110.10 L235.30,109.93 L235.80,109.74 L236.30,109.52 L236.80,109.28 L237.30,109.05 L237.80,108.82 L238.30,108.61 L238.80,108.43 L239.30,108.29 L239.80,108.20 L240.30,108.16 L240.80,108.18 L241.30,108.25 L241.80,108.35 L242.30,108.49 L242.80,108.66 L243.30,108.85 L243.80,109.06 L244.30,109.28 L244.80,109.50 L245.30,109.72 L245.80,109.94 L246.30,110.16 L246.80,110.36 L247.30,110.56 L247.80,110.74 L248.30,110.91 L248.80,111.06 L249.30,111.19 L249.80,111.30 L250.30,111.39 L250.80,111.45 L251.30,111.50 L251.80,111.52 L252.30,111.52 L252.80,111.51 L253.30,111.48 L253.80,111.43 L254.30,111.37 L254.80,111.30 L255.30,111.21 L255.80,111.12 L256.30,111.03 L256.80,110.94 L257.30,110.86 L257.80,110.79 L258.30,110.74 L258.80,110.72 L259.30,110.73 L259.80,110.77 L260.30,110.86 L260.80,110.97 L261.30,111.11 L261.80,111.26 L262.30,111.40 L262.80,111.52 L263.30,111.63 L263.80,111.72 L264.30,111.79 L264.80,111.85 L265.30,111.90 L265.80,111.93 L266.30,111.96 L266.80,111.98 L267.30,111.99 L267.80,112.00 L268.30,112.00 L268.80,112.00 L269.30,112.00 L269.80,112.01 L270.30,112.01 L270.80,112.03 L271.30,112.05 L271.80,112.08 L272.30,112.12 L272.80,112.18 L273.30,112.26 L273.80,112.35 L274.30,112.46 L274.80,112.60 L275.30,112.76 L275.80,112.94 L276.30,113.12 L276.80,113.31 L277.30,113.50 L277.80,113.67 L278.30,113.82 L278.80,113.95 L279.30,114.04 L279.80,114.10 L280.30,114.12 L280.80,114.12 L281.30,114.08 L281.80,114.01 L282.30,113.90 L282.80,113.76 L283.30,113.60 L283.80,113.43 L284.30,113.26 L284.80,113.09 L285.30,112.95 L285.80,112.84 L286.30,112.77 L286.80,112.75 L287.30,112.80 L287.80,112.92 L288.30,113.10 L288.80,113.33 L289.30,113.60 L289.80,113.90 L290.30,114.22 L290.80,114.54 L291.30,114.85 L291.80,115.15 L292.30,115.43 L292.80,115.68 L293.30,115.91 L293.80,116.11 L294.30,116.28 L294.80,116.40 L295.30,116.47 L295.80,116.50 L296.30,116.47 L296.80,116.40 L297.30,116.28 L297.80,116.13 L298.30,115.95 L298.80,115.75 L299.30,115.54 L299.80,115.32 L300.30,115.11 L300.80,114.90 L301.30,114.71 L301.80,114.54 L302.30,114.38 L302.80,114.25 L303.30,114.14 L303.80,114.06 L304.30,114.00 L304.80,113.97 L305.30,113.97 L305.80,114.00 L306.30,114.06 L306.80,114.15 L307.30,114.28 L307.80,114.42 L308.30,114.59 L308.80,114.79 L309.30,115.00 L309.80,115.24 L310.30,115.49 L310.80,115.75 L311.30,116.03 L311.80,116.31 L312.30,116.59 L312.80,116.85 L313.30,117.10 L313.80,117.32 L314.30,117.51 L314.80,117.66 L315.30,117.76 L315.80,117.80 L316.30,117.79 L316.80,117.73 L317.30,117.62 L317.80,117.48 L318.30,117.32 L318.80,117.14 L319.30,116.95 L319.80,116.77 L320.30,116.59 L320.80,116.44 L321.30,116.31 L321.80,116.21 L322.30,116.13 L322.80,116.07 L323.30,116.03 L323.80,116.02 L324.30,116.02 L324.80,116.04 L325.30,116.08 L325.80,116.14 L326.30,116.21 L326.80,116.29 L327.30,116.39 L327.80,116.50 L328.30,116.63 L328.80,116.77 L329.30,116.91 L329.80,117.07 L330.30,117.23 L330.80,117.40 L331.30,117.58 L331.80,117.76 L332.30,117.94 L332.80,118.12 L333.30,118.29 L333.80,118.46 L334.30,118.61 L334.80,118.75 L335.30,118.88 L335.80,118.98 L336.30,119.07 L336.80,119.15 L337.30,119.21 L337.80,119.26 L338.30,119.30 L338.80,119.33 L339.30,119.36 L339.80,119.38 L340.20,119.40" stroke="#008000" stroke-linecap="square"/>
<path d="M44.30,15.05 L44.80,15.08 L45.30,15.12 L45.80,15.16 L46.30,15.20 L46.80,15.25 L47.30,15.31 L47.80,15.39 L48.30,15.47 L48.80,15.58 L49.30,15.70 L49.80,15.84 L50.30,16.00 L50.80,16.18 L51.30,16.39 L51.80,16.62 L52.30,16.89 L52.80,17.18 L53.30,17.51 L53.80,17.87 L54.30,18.25 L54.80,18.68 L55.30,19.13 L55.80,19.62 L56.30,20.13 L56.80,20.68 L57.30,21.26 L57.80,21.88 L58.30,22.52 L58.80,23.20 L59.30,23.91 L59.80,24.65 L60.30,25.41 L60.80,26.20 L61.30,27.01 L61.80,27.84 L62.30,28.68 L62.80,29.53 L63.30,30.39 L63.80,31.25 L64.30,32.12 L64.80,32.98 L65.30,33.84 L65.80,34.70 L66.30,35.56 L66.80,36.42 L67.30,37.29 L67.80,38.16 L68.30,39.06 L68.80,39.97 L69.30,40.89 L69.80,41.80 L70.30,42.69 L70.80,43.53 L71.30,44.30 L71.80,44.99 L72.30,45.61 L72.80,46.17 L73.30,46.69 L73.80,47.20 L74.30,47.70 L74.80,48.21 L75.30,48.74 L75.80,49.31 L76.30,49.90 L76.80,50.52 L77.30,51.18 L77.80,51.89 L78.30,52.63 L78.80,53.39 L79.30,54.15 L79.80,54.90 L80.30,55.62 L80.80,56.30 L81.30,56.92 L81.80,57.51 L82.30,58.10 L82.80,58.72 L83.30,59.39 L83.80,60.16 L84.30,61.05 L84.80,62.04 L85.30,63.11 L85.80,64.20 L86.30,65.29 L86.80,66.32 L87.30,67.26 L87.80,68.10 L88.30,68.82 L88.80,69.44 L89.30,69.95 L89.80,70.36 L90.30,70.68 L90.80,70.90 L91.30,71.03 L91.80,71.09 L92.30,71.08 L92.80,71.03 L93.30,70.94 L93.80,70.83 L94.30,70.71 L94.80,70.61 L95.30,70.52 L95.80,70.48 L96.30,70.47 L96.80,70.51 L97.30,70.60 L97.80,70.73 L98.30,70.91 L98.80,71.15 L99.30,71.45 L99.80,71.83 L100.30,72.30 L100.80,72.86 L101.30,73.49 L101.80,74.15 L102.30,74.83 L102.80,75.48 L103.30,76.08 L103.80,76.60 L104.30,77.01 L104.80,77.33 L105.30,77.56 L105.80,77.73 L106.30,77.83 L106.80,77.89 L107.30,77.93 L107.80,77.95 L108.30,77.97 L108.80,78.00 L109.30,78.06 L109.80,78.14 L110.30,78.24 L110.80,78.35 L111.30,78.48 L111.80,78.62 L112.30,78.76 L112.80,78.91 L113.30,79.06 L113.80,79.20 L114.30,79.34 L114.80,79.46 L115.30,79.59 L115.80,79.71 L116.30,79.83 L116.80,79.96 L117.30,80.08 L117.80,80.22 L118.30,80.35 L118.80,80.50 L119.30,80.66 L119.80,80.82 L120.30,81.00 L120.80,81.18 L121.30,81.37 L121.80,81.57 L122.30,81.77 L122.80,81.98 L123.30,82.19 L123.80,82.40 L124.30,82.62 L124.80,82.84 L125.30,83.07 L125.80,83.31 L126.30,83.57 L126.80,83.85 L127.30,84.14 L127.80,84.46 L128.30,84.81 L128.80,85.18 L129.30,85.56 L129.80,85.94 L130.30,86.31 L130.80,86.67 L131.30,86.99 L131.80,87.27 L132.30,87.52 L132.80,87.72 L133.30,87.87 L133.80,87.96 L134.30,88.00 L134.80,87.98 L135.30,87.90 L135.80,87.79 L136.30,87.64 L136.80,87.46 L137.30,87.28 L137.80,87.09 L138.30,86.90 L138.80,86.73 L139.30,86.59 L139.80,86.48 L140.30,86.41 L140.80,86.40 L141.30,86.44 L141.80,86.52 L142.30,86.62 L142.80,86.75 L143.30,86.88 L143.80,87.02 L144.30,87.18 L144.80,87.37 L145.30,87.60 L145.80,87.87 L146.30,88.19 L146.80,88.54 L147.30,88.92 L147.80,89.31 L148.30,89.69 L148.80,90.07 L149.30,90.42 L149.80,90.74 L150.30,91.02 L150.80,91.24 L151.30,91.41 L151.80,91.54 L152.30,91.60 L152.80,91.61 L153.30,91.56 L153.80,91.46 L154.30,91.33 L154.80,91.16 L155.30,90.99 L155.80,90.82 L156.30,90.66 L156.80,90.52 L157.30,90.42 L157.80,90.34 L158.30,90.29 L158.80,90.25 L159.30,90.22 L159.80,90.20 L160.30,90.19 L160.80,90.18 L161.30,90.18 L161.80,90.19 L162.30,90.21 L162.80,90.25 L163.30,90.31 L163.80,90.39 L164.30,90.50 L164.80,90.63 L165.30,90.78 L165.80,90.97 L166.30,91.17 L166.80,91.38 L167.30,91.61 L167.80,91.86 L168.30,92.10 L168.80,92.35 L169.30,92.60 L169.80,92.85 L170.30,93.09 L170.80,93.31 L171.30,93.53 L171.80,93.72 L172.30,93.89 L172.80,94.04 L173.30,94.16 L173.80,94.24 L174.30,94.29 L174.80,94.30 L175.30,94.27 L175.80,94.21 L176.30,94.13 L176.80,94.04 L177.30,93.95 L177.80,93.87 L178.30,93.80 L178.80,93.76 L179.30,93.73 L179.80,93.73 L180.30,93.75 L180.80,93.79 L181.30,93.84 L181.80,93.91 L182.30,93.98 L182.80,94.07 L183.30,94.16 L183.80,94.26 L184.30,94.36 L184.80,94.46 L185.30,94.56 L185.80,94.67 L186.30,94.77 L186.80,94.87 L187.30,94.98 L187.80,95.08 L188.30,95.19 L188.80,95.29 L189.30,95.39 L189.80,95.50 L190.30,95.60 L190.80,95.70 L191.30,95.80 L191.80,95.90 L192.30,96.00 L192.80,96.10 L193.30,96.20 L193.80,96.30 L194.30,96.39 L194.80,96.49 L195.30,96.58 L195.80,96.67 L196.30,96.76 L196.80,96.85 L197.30,96.93 L197.80,97.02 L198.30,97.10 L198.80,97.17 L199.30,97.25 L199.80,97.31 L200.30,97.37 L200.80,97.43 L201.30,97.48 L201.80,97.52 L202.30,97.56 L202.80,97.58 L203.30,97.60 L203.80,97.61 L204.30,97.61 L204.80,97.60 L205.30,97.59 L205.80,97.58 L206.30,97.57 L206.80,97.55 L207.30,97.55 L207.80,97.54 L208.30,97.55 L208.80,97.56 L209.30,97.58 L209.80,97.62 L210.30,97.66 L210.80,97.73 L211.30,97.81 L211.80,97.91 L212.30,98.02 L212.80,98.16 L213.30,98.32 L213.80,98.50 L214.30,98.70 L214.80,98.94 L215.30,99.19 L215.80,99.48 L216.30,99.79 L216.80,100.11 L217.30,100.40 L217.80,100.63 L218.30,100.80 L218.80,100.92 L219.30,100.99 L219.80,101.02 L220.30,101.02 L220.80,100.99 L221.30,100.94 L221.80,100.89 L222.30,100.82 L222.80,100.77 L223.30,100.72 L223.80,100.68 L224.30,100.67 L224.80,100.67 L225.30,100.69 L225.80,100.72 L226.30,100.76 L226.80,100.81 L227.30,100.88 L227.80,100.95 L228.30,101.03 L228.80,101.12 L229.30,101.21 L229.80,101.30 L230.30,101.39 L230.80,101.49 L231.30,101.59 L231.80,101.69 L232.30,101.79 L232.80,101.89 L233.30,101.99 L233.80,102.10 L234.30,102.21 L234.80,102.32 L235.30,102.44 L235.80,102.55 L236.30,102.67 L236.80,102.79 L237.30,102.92 L237.80,103.04 L238.30,103.15 L238.80,103.27 L239.30,103.37 L239.80,103.47 L240.30,103.56 L240.80,103.64 L241.30,103.71 L241.80,103.76 L242.30,103.80 L242.80,103.82 L243.30,103.83 L243.80,103.82 L244.30,103.81 L244.80,103.79 L245.30,103.77 L245.80,103.75 L246.30,103.73 L246.80,103.72 L247.30,103.73 L247.80,103.74 L248.30,103.77 L248.80,103.82 L249.30,103.89 L249.80,103.98 L250.30,104.08 L250.80,104.19 L251.30,104.31 L251.80,104.44 L252.30,104.56 L252.80,104.68 L253.30,104.80 L253.80,104.91 L254.30,105.01 L254.80,105.10 L255.30,105.17 L255.80,105.23 L256.30,105.27 L256.80,105.32 L257.30,105.35 L257.80,105.40 L258.30,105.44 L258.80,105.50 L259.30,105.57 L259.80,105.66 L260.30,105.77 L260.80,105.89 L261.30,106.03 L261.80,106.17 L262.30,106.30 L262.80,106.42 L263.30,106.52 L263.80,106.62 L264.30,106.70 L264.80,106.77 L265.30,106.83 L265.80,106.88 L266.30,106.92 L266.80,106.95 L267.30,106.97 L267.80,106.99 L268.30,107.00 L268.80,107.00 L269.30,107.00 L269.80,107.00 L270.30,106.99 L270.80,106.98 L271.30,106.98 L271.80,106.97 L272.30,106.96 L272.80,106.96 L273.30,106.96 L273.80,106.97 L274.30,106.98 L274.80,107.00 L275.30,107.03 L275.80,107.06 L276.30,107.10 L276.80,107.15 L277.30,107.20 L277.80,107.25 L278.30,107.31 L278.80,107.36 L279.30,107.42 L279.80,107.47 L280.30,107.53 L280.80,107.57 L281.30,107.62 L281.80,107.66 L282.30,107.69 L282.80,107.72 L283.30,107.74 L283.80,107.76 L284.30,107.78 L284.80,107.79 L285.30,107.80 L285.80,107.80 L286.30,107.80 L286.80,107.80 L287.30,107.80 L287.80,107.79 L288.30,107.79 L288.80,107.78 L289.30,107.77 L289.80,107.77 L290.30,107.76 L290.80,107.76 L291.30,107.76 L291.80,107.77 L292.30,107.78 L292.80,107.80 L293.30,107.83 L293.80,107.87 L294.30,107.91 L294.80,107.96 L295.30,108.03 L295.80,108.10 L296.30,108.17 L296.80,108.25 L297.30,108.34 L297.80,108.42 L298.30,108.51 L298.80,108.60 L299.30,108.68 L299.80,108.76 L300.30,108.84 L300.80,108.91 L301.30,108.98 L301.80,109.04 L302.30,109.08 L302.80,109.12 L303.30,109.15 L303.80,109.17 L304.30,109.18 L304.80,109.18 L305.30,109.18 L305.80,109.17 L306.30,109.16 L306.80,109.15 L307.30,109.13 L307.80,109.12 L308.30,109.11 L308.80,109.10 L309.30,109.09 L309.80,109.09 L310.30,109.09 L310.80,109.10 L311.30,109.12 L311.80,109.15 L312.30,109.18 L312.80,109.21 L313.30,109.26 L313.80,109.30 L314.30,109.35 L314.80,109.41 L315.30,109.47 L315.80,109.52 L316.30,109.58 L316.80,109.64 L317.30,109.70 L317.80,109.76 L318.30,109.82 L318.80,109.88 L319.30,109.93 L319.80,109.98 L320.30,110.03 L320.80,110.08 L321.30,110.12 L321.80,110.17 L322.30,110.21 L322.80,110.26 L323.30,110.30 L323.80,110.35 L324.30,110.39 L324.80,110.44 L325.30,110.49 L325.80,110.54 L326.30,110.59 L326.80,110.65 L327.30,110.71 L327.80,110.78 L328.30,110.85 L328.80,110.92 L329.30,110.99 L329.80,111.06 L330.30,111.14 L330.80,111.22 L331.30,111.30 L331.80,111.37 L332.30,111.45 L332.80,111.53 L333.30,111.61 L333.80,111.68 L334.30,111.75 L334.80,111.82 L335.30,111.89 L335.80,111.95 L336.30,112.01 L336.80,112.07 L337.30,112.12 L337.80,112.17 L338.30,112.22 L338.80,112.27 L339.30,112.32 L339.80,112.36 L340.20,112.40" stroke="#008000" stroke-dasharray="6.17 2.67"/>
<path d="M44.30,15.05 L44.80,15.10 L45.30,15.16 L45.80,15.22 L46.30,15.28 L46.80,15.36 L47.30,15.45 L47.80,15.56 L48.30,15.68 L48.80,15.83 L49.30,16.00 L49.80,16.19 L50.30,16.41 L50.80,16.67 L51.30,16.96 L51.80,17.28 L52.30,17.64 L52.80,18.05 L53.30,18.49 L53.80,18.98 L54.30,19.52 L54.80,20.09 L55.30,20.71 L55.80,21.38 L56.30,22.09 L56.80,22.84 L57.30,23.64 L57.80,24.48 L58.30,25.37 L58.80,26.30 L59.30,27.28 L59.80,28.30 L60.30,29.37 L60.80,30.48 L61.30,31.64 L61.80,32.83 L62.30,34.07 L62.80,35.35 L63.30,36.67 L63.80,38.03 L64.30,39.43 L64.80,40.87 L65.30,42.34 L65.80,43.83 L66.30,45.35 L66.80,46.88 L67.30,48.41 L67.80,49.93 L68.30,51.45 L68.80,52.95 L69.30,54.42 L69.80,55.86 L70.30,57.26 L70.80,58.63 L71.30,59.96 L71.80,61.25 L72.30,62.50 L72.80,63.72 L73.30,64.91 L73.80,66.06 L74.30,67.17 L74.80,68.24 L75.30,69.28 L75.80,70.28 L76.30,71.26 L76.80,72.20 L77.30,73.11 L77.80,73.99 L78.30,74.85 L78.80,75.68 L79.30,76.49 L79.80,77.28 L80.30,78.05 L80.80,78.80 L81.30,79.53 L81.80,80.27 L82.30,81.01 L82.80,81.78 L83.30,82.58 L83.80,83.44 L84.30,84.36 L84.80,85.34 L85.30,86.36 L85.80,87.40 L86.30,88.44 L86.80,89.44 L87.30,90.41 L87.80,91.30 L88.30,92.11 L88.80,92.83 L89.30,93.46 L89.80,93.99 L90.30,94.43 L90.80,94.78 L91.30,95.03 L91.80,95.18 L92.30,95.25 L92.80,95.25 L93.30,95.23 L93.80,95.20 L94.30,95.18 L94.80,95.21 L95.30,95.30 L95.80,95.48 L96.30,95.73 L96.80,96.04 L97.30,96.39 L97.80,96.76 L98.30,97.12 L98.80,97.47 L99.30,97.77 L99.80,98.02 L100.30,98.20 L100.80,98.29 L101.30,98.30 L101.80,98.25 L102.30,98.17 L102.80,98.06 L103.30,97.94 L103.80,97.84 L104.30,97.77 L104.80,97.75 L105.30,97.80 L105.80,97.93 L106.30,98.12 L106.80,98.38 L107.30,98.68 L107.80,99.02 L108.30,99.37 L108.80,99.73 L109.30,100.08 L109.80,100.40 L110.30,100.70 L110.80,100.95 L111.30,101.15 L111.80,101.31 L112.30,101.43 L112.80,101.51 L113.30,101.54 L113.80,101.53 L114.30,101.49 L114.80,101.41 L115.30,101.30 L115.80,101.16 L116.30,100.99 L116.80,100.82 L117.30,100.66 L117.80,100.53 L118.30,100.43 L118.80,100.38 L119.30,100.40 L119.80,100.50 L120.30,100.70 L120.80,101.00 L121.30,101.39 L121.80,101.86 L122.30,102.39 L122.80,102.96 L123.30,103.55 L123.80,104.14 L124.30,104.73 L124.80,105.30 L125.30,105.82 L125.80,106.31 L126.30,106.73 L126.80,107.09 L127.30,107.36 L127.80,107.55 L128.30,107.64 L128.80,107.64 L129.30,107.56 L129.80,107.43 L130.30,107.26 L130.80,107.07 L131.30,106.89 L131.80,106.72 L132.30,106.57 L132.80,106.45 L133.30,106.35 L133.80,106.30 L134.30,106.30 L134.80,106.35 L135.30,106.44 L135.80,106.58 L136.30,106.76 L136.80,106.97 L137.30,107.22 L137.80,107.49 L138.30,107.78 L138.80,108.08 L139.30,108.39 L139.80,108.70 L140.30,109.00 L140.80,109.28 L141.30,109.53 L141.80,109.75 L142.30,109.93 L142.80,110.06 L143.30,110.14 L143.80,110.16 L144.30,110.13 L144.80,110.07 L145.30,109.98 L145.80,109.88 L146.30,109.77 L146.80,109.67 L147.30,109.58 L147.80,109.52 L148.30,109.49 L148.80,109.49 L149.30,109.53 L149.80,109.60 L150.30,109.70 L150.80,109.82 L151.30,109.98 L151.80,110.15 L152.30,110.35 L152.80,110.56 L153.30,110.79 L153.80,111.04 L154.30,111.30 L154.80,111.56 L155.30,111.83 L155.80,112.11 L156.30,112.38 L156.80,112.66 L157.30,112.92 L157.80,113.19 L158.30,113.44 L158.80,113.68 L159.30,113.90 L159.80,114.11 L160.30,114.29 L160.80,114.46 L161.30,114.62 L161.80,114.75 L162.30,114.86 L162.80,114.95 L163.30,115.03 L163.80,115.08 L164.30,115.11 L164.80,115.13 L165.30,115.12 L165.80,115.09 L166.30,115.04 L166.80,114.98 L167.30,114.91 L167.80,114.85 L168.30,114.80 L168.80,114.77 L169.30,114.77 L169.80,114.79 L170.30,114.86 L170.80,114.98 L171.30,115.15 L171.80,115.39 L172.30,115.69 L172.80,116.06 L173.30,116.46 L173.80,116.89 L174.30,117.33 L174.80,117.75 L175.30,118.13 L175.80,118.46 L176.30,118.71 L176.80,118.87 L177.30,118.91 L177.80,118.85 L178.30,118.70 L178.80,118.48 L179.30,118.22 L179.80,117.92 L180.30,117.62 L180.80,117.33 L181.30,117.06 L181.80,116.83 L182.30,116.64 L182.80,116.49 L183.30,116.41 L183.80,116.39 L184.30,116.45 L184.80,116.58 L185.30,116.77 L185.80,117.02 L186.30,117.32 L186.80,117.65 L187.30,118.03 L187.80,118.42 L188.30,118.81 L188.80,119.19 L189.30,119.52 L189.80,119.80 L190.30,120.00 L190.80,120.10 L191.30,120.09 L191.80,119.99 L192.30,119.80 L192.80,119.57 L193.30,119.29 L193.80,119.00 L194.30,118.71 L194.80,118.44 L195.30,118.21 L195.80,118.01 L196.30,117.85 L196.80,117.73 L197.30,117.64 L197.80,117.60 L198.30,117.60 L198.80,117.65 L199.30,117.73 L199.80,117.86 L200.30,118.02 L200.80,118.21 L201.30,118.43 L201.80,118.67 L202.30,118.93 L202.80,119.21 L203.30,119.50 L203.80,119.80 L204.30,120.10 L204.80,120.41 L205.30,120.70 L205.80,120.98 L206.30,121.24 L206.80,121.48 L207.30,121.69 L207.80,121.87 L208.30,122.00 L208.80,122.09 L209.30,122.14 L209.80,122.15 L210.30,122.13 L210.80,122.08 L211.30,122.02 L211.80,121.94 L212.30,121.84 L212.80,121.75 L213.30,121.65 L213.80,121.56 L214.30,121.48 L214.80,121.43 L215.30,121.39 L215.80,121.39 L216.30,121.42 L216.80,121.49 L217.30,121.59 L217.80,121.72 L218.30,121.87 L218.80,122.03 L219.30,122.20 L219.80,122.38 L220.30,122.56 L220.80,122.74 L221.30,122.91 L221.80,123.06 L222.30,123.20 L222.80,123.31 L223.30,123.40 L223.80,123.46 L224.30,123.50 L224.80,123.52 L225.30,123.51 L225.80,123.47 L226.30,123.41 L226.80,123.32 L227.30,123.20 L227.80,123.06 L228.30,122.90 L228.80,122.73 L229.30,122.56 L229.80,122.39 L230.30,122.25 L230.80,122.13 L231.30,122.04 L231.80,121.99 L232.30,122.00 L232.80,122.06 L233.30,122.18 L233.80,122.34 L234.30,122.54 L234.80,122.77 L235.30,123.02 L235.80,123.29 L236.30,123.57 L236.80,123.85 L237.30,124.16 L237.80,124.51 L238.30,124.92 L238.80,125.38 L239.30,125.93 L239.80,126.54 L240.30,127.16 L240.80,127.75 L241.30,128.27 L241.80,128.65 L242.30,128.86 L242.80,128.87 L243.30,128.72 L243.80,128.44 L244.30,128.05 L244.80,127.60 L245.30,127.10 L245.80,126.59 L246.30,126.09 L246.80,125.63 L247.30,125.22 L247.80,124.90 L248.30,124.68 L248.80,124.59 L249.30,124.66 L249.80,124.87 L250.30,125.20 L250.80,125.63 L251.30,126.14 L251.80,126.70 L252.30,127.29 L252.80,127.88 L253.30,128.46 L253.80,128.99 L254.30,129.45 L254.80,129.84 L255.30,130.12 L255.80,130.28 L256.30,130.31 L256.80,130.20 L257.30,129.98 L257.80,129.67 L258.30,129.30 L258.80,128.88 L259.30,128.44 L259.80,128.00 L260.30,127.58 L260.80,127.18 L261.30,126.81 L261.80,126.48 L262.30,126.19 L262.80,125.96 L263.30,125.78 L263.80,125.66 L264.30,125.61 L264.80,125.61 L265.30,125.66 L265.80,125.74 L266.30,125.87 L266.80,126.01 L267.30,126.18 L267.80,126.36 L268.30,126.54 L268.80,126.71 L269.30,126.89 L269.80,127.06 L270.30,127.22 L270.80,127.39 L271.30,127.55 L271.80,127.70 L272.30,127.85 L272.80,128.00 L273.30,128.14 L273.80,128.28 L274.30,128.40 L274.80,128.51 L275.30,128.61 L275.80,128.69 L276.30,128.75 L276.80,128.79 L277.30,128.80 L277.80,128.79 L278.30,128.75 L278.80,128.68 L279.30,128.59 L279.80,128.47 L280.30,128.33 L280.80,128.17 L281.30,127.99 L281.80,127.79 L282.30,127.57 L282.80,127.34 L283.30,127.12 L283.80,126.92 L284.30,126.77 L284.80,126.69 L285.30,126.68 L285.80,126.77 L286.30,126.97 L286.80,127.29 L287.30,127.72 L287.80,128.26 L288.30,128.91 L288.80,129.65 L289.30,130.50 L289.80,131.43 L290.30,132.40 L290.80,133.33 L291.30,134.16 L291.80,134.83 L292.30,135.27 L292.80,135.42 L293.30,135.27 L293.80,134.86 L294.30,134.25 L294.80,133.50 L295.30,132.66 L295.80,131.77 L296.30,130.86 L296.80,129.97 L297.30,129.12 L297.80,128.34 L298.30,127.66 L298.80,127.10 L299.30,126.68 L299.80,126.44 L300.30,126.40 L300.80,126.54 L301.30,126.83 L301.80,127.26 L302.30,127.77 L302.80,128.36 L303.30,129.00 L303.80,129.75 L304.30,130.62 L304.80,131.64 L305.30,132.84 L305.80,134.14 L306.30,135.38 L306.80,136.39 L307.30,137.03 L307.80,137.16 L308.30,136.80 L308.80,136.09 L309.30,135.12 L309.80,134.03 L310.30,132.90 L310.80,131.81 L311.30,130.76 L311.80,129.80 L312.30,128.95 L312.80,128.24 L313.30,127.69 L313.80,127.32 L314.30,127.15 L314.80,127.20 L315.30,127.49 L315.80,128.00 L316.30,128.69 L316.80,129.53 L317.30,130.50 L317.80,131.58 L318.30,132.80 L318.80,134.23 L319.30,135.91 L319.80,137.90 L320.30,140.18 L320.80,142.43 L321.30,144.25 L321.80,145.24 L322.30,145.06 L322.80,143.87 L323.30,142.04 L323.80,139.92 L324.30,137.87 L324.80,135.98 L325.30,134.29 L325.80,132.80 L326.30,131.53 L326.80,130.49 L327.30,129.69 L327.80,129.14 L328.30,128.84 L328.80,128.80 L329.30,129.02 L329.80,129.48 L330.30,130.16 L330.80,131.04 L331.30,132.10 L331.80,133.33 L332.30,134.74 L332.80,136.37 L333.30,138.25 L333.80,140.40 L334.30,142.79 L334.80,145.08 L335.30,146.87 L335.80,147.77 L336.30,147.42 L336.80,146.02 L337.30,143.96 L337.80,141.66 L338.30,139.47 L338.80,137.47 L339.30,135.63 L339.80,133.87 L340.20,132.50" stroke="#ff0000" stroke-linecap="square"/>
<path d="M44.30,15.05 L44.80,15.08 L45.30,15.12 L45.80,15.17 L46.30,15.22 L46.80,15.28 L47.30,15.36 L47.80,15.46 L48.30,15.58 L48.80,15.72 L49.30,15.89 L49.80,16.09 L50.30,16.32 L50.80,16.58 L51.30,16.89 L51.80,17.24 L52.30,17.63 L52.80,18.07 L53.30,18.56 L53.80,19.09 L54.30,19.67 L54.80,20.29 L55.30,20.95 L55.80,21.64 L56.30,22.38 L56.80,23.15 L57.30,23.95 L57.80,24.78 L58.30,25.65 L58.80,26.54 L59.30,27.45 L59.80,28.39 L60.30,29.36 L60.80,30.34 L61.30,31.35 L61.80,32.38 L62.30,33.42 L62.80,34.48 L63.30,35.56 L63.80,36.65 L64.30,37.76 L64.80,38.87 L65.30,40.00 L65.80,41.14 L66.30,42.28 L66.80,43.44 L67.30,44.60 L67.80,45.77 L68.30,46.95 L68.80,48.14 L69.30,49.34 L69.80,50.55 L70.30,51.77 L70.80,52.99 L71.30,54.22 L71.80,55.46 L72.30,56.70 L72.80,57.94 L73.30,59.18 L73.80,60.41 L74.30,61.63 L74.80,62.84 L75.30,64.04 L75.80,65.22 L76.30,66.38 L76.80,67.51 L77.30,68.62 L77.80,69.70 L78.30,70.74 L78.80,71.74 L79.30,72.71 L79.80,73.62 L80.30,74.49 L80.80,75.30 L81.30,76.04 L81.80,76.71 L82.30,77.30 L82.80,77.80 L83.30,78.20 L83.80,78.50 L84.30,78.70 L84.80,78.84 L85.30,78.93 L85.80,78.98 L86.30,79.02 L86.80,79.06 L87.30,79.12 L87.80,79.20 L88.30,79.33 L88.80,79.51 L89.30,79.76 L89.80,80.07 L90.30,80.44 L90.80,80.84 L91.30,81.28 L91.80,81.73 L92.30,82.19 L92.80,82.64 L93.30,83.06 L93.80,83.46 L94.30,83.80 L94.80,84.10 L95.30,84.36 L95.80,84.58 L96.30,84.77 L96.80,84.94 L97.30,85.08 L97.80,85.21 L98.30,85.33 L98.80,85.45 L99.30,85.57 L99.80,85.70 L100.30,85.83 L100.80,85.96 L101.30,86.10 L101.80,86.25 L102.30,86.40 L102.80,86.57 L103.30,86.74 L103.80,86.91 L104.30,87.10 L104.80,87.30 L105.30,87.50 L105.80,87.72 L106.30,87.94 L106.80,88.19 L107.30,88.46 L107.80,88.75 L108.30,89.07 L108.80,89.42 L109.30,89.81 L109.80,90.23 L110.30,90.70 L110.80,91.21 L111.30,91.75 L111.80,92.31 L112.30,92.88 L112.80,93.43 L113.30,93.95 L113.80,94.44 L114.30,94.87 L114.80,95.22 L115.30,95.50 L115.80,95.68 L116.30,95.78 L116.80,95.80 L117.30,95.76 L117.80,95.67 L118.30,95.54 L118.80,95.40 L119.30,95.24 L119.80,95.07 L120.30,94.92 L120.80,94.77 L121.30,94.65 L121.80,94.55 L122.30,94.48 L122.80,94.45 L123.30,94.46 L123.80,94.53 L124.30,94.66 L124.80,94.84 L125.30,95.08 L125.80,95.36 L126.30,95.67 L126.80,96.01 L127.30,96.37 L127.80,96.75 L128.30,97.13 L128.80,97.50 L129.30,97.85 L129.80,98.16 L130.30,98.43 L130.80,98.63 L131.30,98.76 L131.80,98.80 L132.30,98.74 L132.80,98.60 L133.30,98.40 L133.80,98.15 L134.30,97.88 L134.80,97.61 L135.30,97.35 L135.80,97.14 L136.30,96.98 L136.80,96.90 L137.30,96.91 L137.80,97.01 L138.30,97.19 L138.80,97.42 L139.30,97.70 L139.80,98.02 L140.30,98.36 L140.80,98.71 L141.30,99.06 L141.80,99.40 L142.30,99.71 L142.80,99.99 L143.30,100.25 L143.80,100.48 L144.30,100.68 L144.80,100.86 L145.30,101.01 L145.80,101.13 L146.30,101.23 L146.80,101.30 L147.30,101.34 L147.80,101.37 L148.30,101.37 L148.80,101.36 L149.30,101.34 L149.80,101.31 L150.30,101.28 L150.80,101.26 L151.30,101.24 L151.80,101.23 L152.30,101.24 L152.80,101.27 L153.30,101.32 L153.80,101.40 L154.30,101.50 L154.80,101.62 L155.30,101.76 L155.80,101.91 L156.30,102.08 L156.80,102.26 L157.30,102.44 L157.80,102.63 L158.30,102.82 L158.80,103.01 L159.30,103.20 L159.80,103.38 L160.30,103.56 L160.80,103.73 L161.30,103.89 L161.80,104.03 L162.30,104.16 L162.80,104.27 L163.30,104.37 L163.80,104.44 L164.30,104.49 L164.80,104.52 L165.30,104.51 L165.80,104.48 L166.30,104.43 L166.80,104.35 L167.30,104.26 L167.80,104.15 L168.30,104.05 L168.80,103.95 L169.30,103.86 L169.80,103.78 L170.30,103.73 L170.80,103.71 L171.30,103.72 L171.80,103.77 L172.30,103.86 L172.80,104.00 L173.30,104.17 L173.80,104.36 L174.30,104.56 L174.80,104.75 L175.30,104.96 L175.80,105.17 L176.30,105.38 L176.80,105.60 L177.30,105.83 L177.80,106.06 L178.30,106.30 L178.80,106.55 L179.30,106.80 L179.80,107.05 L180.30,107.28 L180.80,107.51 L181.30,107.71 L181.80,107.89 L182.30,108.03 L182.80,108.14 L183.30,108.20 L183.80,108.22 L184.30,108.19 L184.80,108.14 L185.30,108.06 L185.80,107.96 L186.30,107.87 L186.80,107.77 L187.30,107.69 L187.80,107.63 L188.30,107.60 L188.80,107.61 L189.30,107.65 L189.80,107.72 L190.30,107.82 L190.80,107.95 L191.30,108.09 L191.80,108.25 L192.30,108.43 L192.80,108.61 L193.30,108.80 L193.80,108.99 L194.30,109.18 L194.80,109.36 L195.30,109.53 L195.80,109.68 L196.30,109.82 L196.80,109.93 L197.30,110.02 L197.80,110.08 L198.30,110.10 L198.80,110.09 L199.30,110.04 L199.80,109.97 L200.30,109.89 L200.80,109.80 L201.30,109.70 L201.80,109.62 L202.30,109.55 L202.80,109.51 L203.30,109.50 L203.80,109.53 L204.30,109.59 L204.80,109.68 L205.30,109.79 L205.80,109.92 L206.30,110.07 L206.80,110.23 L207.30,110.39 L207.80,110.55 L208.30,110.70 L208.80,110.84 L209.30,110.97 L209.80,111.10 L210.30,111.21 L210.80,111.31 L211.30,111.41 L211.80,111.49 L212.30,111.57 L212.80,111.65 L213.30,111.71 L213.80,111.78 L214.30,111.83 L214.80,111.89 L215.30,111.94 L215.80,111.98 L216.30,112.03 L216.80,112.07 L217.30,112.11 L217.80,112.15 L218.30,112.19 L218.80,112.23 L219.30,112.27 L219.80,112.32 L220.30,112.37 L220.80,112.42 L221.30,112.47 L221.80,112.53 L222.30,112.60 L222.80,112.67 L223.30,112.75 L223.80,112.83 L224.30,112.92 L224.80,113.01 L225.30,113.11 L225.80,113.21 L226.30,113.31 L226.80,113.42 L227.30,113.53 L227.80,113.64 L228.30,113.75 L228.80,113.87 L229.30,113.98 L229.80,114.10 L230.30,114.21 L230.80,114.33 L231.30,114.44 L231.80,114.55 L232.30,114.65 L232.80,114.75 L233.30,114.85 L233.80,114.94 L234.30,115.02 L234.80,115.10 L235.30,115.17 L235.80,115.23 L236.30,115.29 L236.80,115.34 L237.30,115.39 L237.80,115.43 L238.30,115.47 L238.80,115.51 L239.30,115.55 L239.80,115.59 L240.30,115.63 L240.80,115.67 L241.30,115.72 L241.80,115.77 L242.30,115.82 L242.80,115.87 L243.30,115.92 L243.80,115.98 L244.30,116.04 L244.80,116.10 L245.30,116.16 L245.80,116.22 L246.30,116.28 L246.80,116.34 L247.30,116.40 L247.80,116.46 L248.30,116.52 L248.80,116.58 L249.30,116.63 L249.80,116.68 L250.30,116.74 L250.80,116.78 L251.30,116.83 L251.80,116.87 L252.30,116.91 L252.80,116.95 L253.30,116.98 L253.80,117.01 L254.30,117.04 L254.80,117.06 L255.30,117.08 L255.80,117.10 L256.30,117.13 L256.80,117.16 L257.30,117.20 L257.80,117.25 L258.30,117.31 L258.80,117.38 L259.30,117.46 L259.80,117.56 L260.30,117.67 L260.80,117.80 L261.30,117.94 L261.80,118.07 L262.30,118.20 L262.80,118.32 L263.30,118.42 L263.80,118.51 L264.30,118.59 L264.80,118.66 L265.30,118.72 L265.80,118.77 L266.30,118.81 L266.80,118.84 L267.30,118.87 L267.80,118.89 L268.30,118.90 L268.80,118.90 L269.30,118.90 L269.80,118.90 L270.30,118.89 L270.80,118.88 L271.30,118.88 L271.80,118.87 L272.30,118.86 L272.80,118.86 L273.30,118.86 L273.80,118.87 L274.30,118.88 L274.80,118.90 L275.30,118.93 L275.80,118.96 L276.30,119.01 L276.80,119.05 L277.30,119.11 L277.80,119.16 L278.30,119.21 L278.80,119.27 L279.30,119.33 L279.80,119.38 L280.30,119.43 L280.80,119.48 L281.30,119.52 L281.80,119.55 L282.30,119.58 L282.80,119.60 L283.30,119.63 L283.80,119.65 L284.30,119.66 L284.80,119.68 L285.30,119.70 L285.80,119.72 L286.30,119.74 L286.80,119.76 L287.30,119.78 L287.80,119.81 L288.30,119.85 L288.80,119.88 L289.30,119.93 L289.80,119.97 L290.30,120.02 L290.80,120.07 L291.30,120.12 L291.80,120.17 L292.30,120.23 L292.80,120.28 L293.30,120.34 L293.80,120.39 L294.30,120.44 L294.80,120.49 L295.30,120.54 L295.80,120.59 L296.30,120.64 L296.80,120.68 L297.30,120.72 L297.80,120.76 L298.30,120.80 L298.80,120.83 L299.30,120.87 L299.80,120.91 L300.30,120.96 L300.80,121.00 L301.30,121.05 L301.80,121.10 L302.30,121.15 L302.80,121.22 L303.30,121.28 L303.80,121.35 L304.30,121.43 L304.80,121.52 L305.30,121.61 L305.80,121.70 L306.30,121.80 L306.80,121.90 L307.30,122.00 L307.80,122.09 L308.30,122.19 L308.80,122.28 L309.30,122.37 L309.80,122.44 L310.30,122.52 L310.80,122.58 L311.30,122.63 L311.80,122.67 L312.30,122.70 L312.80,122.71 L313.30,122.71 L313.80,122.70 L314.30,122.68 L314.80,122.65 L315.30,122.61 L315.80,122.58 L316.30,122.54 L316.80,122.50 L317.30,122.46 L317.80,122.43 L318.30,122.40 L318.80,122.38 L319.30,122.37 L319.80,122.37 L320.30,122.38 L320.80,122.41 L321.30,122.46 L321.80,122.52 L322.30,122.59 L322.80,122.67 L323.30,122.76 L323.80,122.86 L324.30,122.96 L324.80,123.07 L325.30,123.18 L325.80,123.30 L326.30,123.41 L326.80,123.52 L327.30,123.62 L327.80,123.72 L328.30,123.82 L328.80,123.90 L329.30,123.97 L329.80,124.04 L330.30,124.09 L330.80,124.14 L331.30,124.18 L331.80,124.22 L332.30,124.25 L332.80,124.28 L333.30,124.30 L333.80,124.33 L334.30,124.35 L334.80,124.37 L335.30,124.40 L335.80,124.42 L336.30,124.45 L336.80,124.48 L337.30,124.51 L337.80,124.54 L338.30,124.57 L338.80,124.60 L339.30,124.64 L339.80,124.67 L340.20,124.70" stroke="#ff0000" stroke-dasharray="6.17 2.67"/>
</g>
<g clip-path="url(#cb)" fill="none" stroke-width="1.67" stroke-linejoin="round">
<path d="M44.30,226.60 L45.04,226.73 L45.78,227.47 L46.52,228.72 L47.26,230.25 L48.00,231.93 L48.74,233.68 L49.48,235.47 L50.22,237.27 L50.96,239.08 L51.70,240.89 L52.44,242.69 L53.18,244.49 L53.92,246.28 L54.66,248.07 L55.40,249.85 L56.14,251.63 L56.88,253.40 L57.62,255.17 L58.36,256.93 L59.09,258.69 L59.83,260.45 L60.57,262.21 L61.31,263.97 L62.05,265.72 L62.79,267.48 L63.53,269.23 L64.27,270.99 L65.01,272.74 L65.75,274.49 L66.49,276.25 L67.23,278.00 L67.97,279.75 L68.71,281.50 L69.45,283.25 L70.19,285.00 L70.93,286.75 L71.67,288.49 L72.41,290.24 L73.15,291.98 L73.89,293.72 L74.63,295.46 L75.37,297.19 L76.11,298.92 L76.85,300.65 L77.59,302.37 L78.33,304.09 L79.07,305.80 L79.81,307.51 L80.55,309.21 L81.29,310.90 L82.03,312.59 L82.77,314.27 L83.51,315.94 L84.25,317.61 L84.99,319.26 L85.73,320.91 L86.47,322.55 L87.21,324.18 L87.95,325.79 L88.68,327.40 L89.42,329.00 L90.16,330.58 L90.90,332.15 L91.64,333.71 L92.38,335.25 L93.12,336.79 L93.86,338.31 L94.60,339.81 L95.34,341.30 L96.08,342.77 L96.82,344.23 L97.56,345.68 L98.30,347.10 L99.04,348.51 L99.78,349.91 L100.52,351.29 L101.26,352.65 L102.00,353.99 L102.74,355.31 L103.48,356.62 L104.22,357.90 L104.96,359.17 L105.70,360.42 L106.44,361.65 L107.18,362.86 L107.92,364.06 L108.66,365.23 L109.40,366.38 L110.14,367.51 L110.88,368.62 L111.62,369.71 L112.36,370.78 L113.10,371.84 L113.84,372.87 L114.58,373.88 L115.32,374.86 L116.06,375.83 L116.80,376.78 L117.54,377.71 L118.27,378.62 L119.01,379.50 L119.75,380.37 L120.49,381.21 L121.23,382.04 L121.97,382.85 L122.71,383.63 L123.45,384.40 L124.19,385.14 L124.93,385.87 L125.67,386.58 L126.41,387.26 L127.15,387.93 L127.89,388.58 L128.63,389.21 L129.37,389.82 L130.11,390.42 L130.85,390.99 L131.59,391.55 L132.33,392.09 L133.07,392.62 L133.81,393.13 L134.55,393.62 L135.29,394.09 L136.03,394.55 L136.77,394.99 L137.51,395.42 L138.25,395.83 L138.99,396.23 L139.73,396.61 L140.47,396.98 L141.21,397.33 L141.95,397.67 L142.69,398.00 L143.43,398.32 L144.17,398.62 L144.91,398.91 L145.65,399.19 L146.39,399.45 L147.13,399.71 L147.86,399.95 L148.60,400.19 L149.34,400.41 L150.08,400.63 L150.82,400.83 L151.56,401.02 L152.30,401.21 L153.04,401.39 L153.78,401.55 L154.52,401.72 L155.26,401.87 L156.00,402.01 L156.74,402.15 L157.48,402.28 L158.22,402.41 L158.96,402.52 L159.70,402.63 L160.44,402.74 L161.18,402.84 L161.92,402.93 L162.66,403.02 L163.40,403.11 L164.14,403.19 L164.88,403.26 L165.62,403.33 L166.36,403.40 L167.10,403.46 L167.84,403.52 L168.58,403.57 L169.32,403.63 L170.06,403.67 L170.80,403.72 L171.54,403.76 L172.28,403.80 L173.02,403.84 L173.76,403.87 L174.50,403.91 L175.24,403.94 L175.98,403.96 L176.72,403.99 L177.45,404.02 L178.19,404.04 L178.93,404.06 L179.67,404.08 L180.41,404.10 L181.15,404.11 L181.89,404.13 L182.63,404.14 L183.37,404.16 L184.11,404.17 L184.85,404.18 L185.59,404.19 L186.33,404.20 L187.07,404.21 L187.81,404.22 L188.55,404.22 L189.29,404.23 L190.03,404.24 L190.77,404.24 L191.51,404.25 L192.25,404.25 L192.99,404.26 L193.73,404.26 L194.47,404.27 L195.21,404.27 L195.95,404.27 L196.69,404.28 L197.43,404.28 L198.17,404.28 L198.91,404.28 L199.65,404.28 L200.39,404.29 L201.13,404.29 L201.87,404.29 L202.61,404.29 L203.35,404.29 L204.09,404.29 L204.83,404.29 L205.57,404.29 L206.31,404.29 L207.04,404.29 L207.78,404.30 L208.52,404.30 L209.26,404.30 L210.00,404.30 L210.74,404.30 L211.48,404.30 L212.22,404.30 L212.96,404.30 L213.70,404.30 L214.44,404.30 L215.18,404.30 L215.92,404.30 L216.66,404.30 L217.40,404.30 L218.14,404.30 L218.88,404.30 L219.62,404.30 L220.36,404.30 L221.10,404.30 L221.84,404.30 L222.58,404.30 L223.32,404.30 L224.06,404.30 L224.80,404.30 L225.54,404.30 L226.28,404.30 L227.02,404.30 L227.76,404.30 L228.50,404.30 L229.24,404.30 L229.98,404.30 L230.72,404.30 L231.46,404.30 L232.20,404.30 L232.94,404.30 L233.68,404.30 L234.42,404.30 L235.16,404.30 L235.90,404.30 L236.63,404.30 L237.37,404.30 L238.11,404.30 L238.85,404.30 L239.59,404.30 L240.33,404.30 L241.07,404.30 L241.81,404.30 L242.55,404.30 L243.29,404.30 L244.03,404.30 L244.77,404.30 L245.51,404.30 L246.25,404.30 L246.99,404.30 L247.73,404.30 L248.47,404.30 L249.21,404.30 L249.95,404.30 L250.69,404.30 L251.43,404.30 L252.17,404.30 L252.91,404.30 L253.65,404.30 L254.39,404.30 L255.13,404.30 L255.87,404.30 L256.61,404.30 L257.35,404.30 L258.09,404.30 L258.83,404.30 L259.57,404.30 L260.31,404.30 L261.05,404.30 L261.79,404.30 L262.53,404.30 L263.27,404.30 L264.01,404.30 L264.75,404.30 L265.49,404.30 L266.22,404.30 L266.96,404.30 L267.70,404.30 L268.44,404.30 L269.18,404.30 L269.92,404.30 L270.66,404.30 L271.40,404.30 L272.14,404.30 L272.88,404.30 L273.62,404.30 L274.36,404.30 L275.10,404.30 L275.84,404.30 L276.58,404.30 L277.32,404.30 L278.06,404.30 L278.80,404.30 L279.54,404.30 L280.28,404.30 L281.02,404.30 L281.76,404.30 L282.50,404.30 L283.24,404.30 L283.98,404.30 L284.72,404.30 L285.46,404.30 L286.20,404.30 L286.94,404.30 L287.68,404.30 L288.42,404.30 L289.16,404.30 L289.90,404.30 L290.64,404.30 L291.38,404.30 L292.12,404.30 L292.86,404.30 L293.60,404.30 L294.34,404.30 L295.08,404.30 L295.81,404.30 L296.55,404.30 L297.29,404.30 L298.03,404.30 L298.77,404.30 L299.51,404.30 L300.25,404.30 L300.99,404.30 L301.73,404.30 L302.47,404.30 L303.21,404.30 L303.95,404.30 L304.69,404.30 L305.43,404.30 L306.17,404.30 L306.91,404.30 L307.65,404.30 L308.39,404.30 L309.13,404.30 L309.87,404.30 L310.61,404.30 L311.35,404.30 L312.09,404.30 L312.83,404.30 L313.57,404.30 L314.31,404.30 L315.05,404.30 L315.79,404.30 L316.53,404.30 L317.27,404.30 L318.01,404.30 L318.75,404.30 L319.49,404.30 L320.23,404.30 L320.97,404.30 L321.71,404.30 L322.45,404.30 L323.19,404.30 L323.93,404.30 L324.67,404.30 L325.40,404.30 L326.14,404.30 L326.88,404.30 L327.62,404.30 L328.36,404.30 L329.10,404.30 L329.84,404.30 L330.58,404.30 L331.32,404.30 L332.06,404.30 L332.80,404.30 L333.54,404.30 L334.28,404.30 L335.02,404.30 L335.76,404.30 L336.50,404.30 L337.24,404.30 L337.98,404.30 L338.72,404.30 L339.46,404.30 L340.20,404.30" stroke="#ff7f0e" stroke-linecap="square"/>
<path d="M44.30,226.60 L45.04,227.29 L45.78,228.97 L46.52,230.93 L47.26,232.95 L48.00,234.97 L48.74,236.99 L49.48,238.99 L50.22,240.97 L50.96,242.94 L51.70,244.89 L52.44,246.83 L53.18,248.77 L53.92,250.70 L54.66,252.62 L55.40,254.54 L56.14,256.45 L56.88,258.36 L57.62,260.27 L58.36,262.17 L59.09,264.08 L59.83,265.98 L60.57,267.88 L61.31,269.78 L62.05,271.68 L62.79,273.58 L63.53,275.48 L64.27,277.37 L65.01,279.26 L65.75,281.15 L66.49,283.04 L67.23,284.93 L67.97,286.81 L68.71,288.68 L69.45,290.55 L70.19,292.42 L70.93,294.28 L71.67,296.14 L72.41,297.99 L73.15,299.83 L73.89,301.67 L74.63,303.50 L75.37,305.32 L76.11,307.13 L76.85,308.93 L77.59,310.73 L78.33,312.51 L79.07,314.28 L79.81,316.04 L80.55,317.79 L81.29,319.53 L82.03,321.25 L82.77,322.96 L83.51,324.66 L84.25,326.34 L84.99,328.01 L85.73,329.66 L86.47,331.30 L87.21,332.93 L87.95,334.53 L88.68,336.12 L89.42,337.70 L90.16,339.25 L90.90,340.79 L91.64,342.31 L92.38,343.81 L93.12,345.30 L93.86,346.76 L94.60,348.21 L95.34,349.63 L96.08,351.04 L96.82,352.42 L97.56,353.79 L98.30,355.14 L99.04,356.46 L99.78,357.77 L100.52,359.05 L101.26,360.31 L102.00,361.55 L102.74,362.77 L103.48,363.97 L104.22,365.15 L104.96,366.30 L105.70,367.44 L106.44,368.55 L107.18,369.64 L107.92,370.71 L108.66,371.76 L109.40,372.78 L110.14,373.79 L110.88,374.77 L111.62,375.73 L112.36,376.67 L113.10,377.59 L113.84,378.49 L114.58,379.37 L115.32,380.22 L116.06,381.06 L116.80,381.87 L117.54,382.67 L118.27,383.44 L119.01,384.19 L119.75,384.93 L120.49,385.64 L121.23,386.34 L121.97,387.01 L122.71,387.67 L123.45,388.31 L124.19,388.93 L124.93,389.53 L125.67,390.12 L126.41,390.68 L127.15,391.23 L127.89,391.77 L128.63,392.28 L129.37,392.78 L130.11,393.26 L130.85,393.73 L131.59,394.18 L132.33,394.62 L133.07,395.04 L133.81,395.45 L134.55,395.84 L135.29,396.22 L136.03,396.59 L136.77,396.94 L137.51,397.28 L138.25,397.61 L138.99,397.92 L139.73,398.22 L140.47,398.51 L141.21,398.79 L141.95,399.06 L142.69,399.32 L143.43,399.57 L144.17,399.80 L144.91,400.03 L145.65,400.25 L146.39,400.46 L147.13,400.66 L147.86,400.85 L148.60,401.03 L149.34,401.20 L150.08,401.37 L150.82,401.53 L151.56,401.68 L152.30,401.82 L153.04,401.96 L153.78,402.09 L154.52,402.22 L155.26,402.34 L156.00,402.45 L156.74,402.56 L157.48,402.66 L158.22,402.76 L158.96,402.85 L159.70,402.94 L160.44,403.02 L161.18,403.10 L161.92,403.17 L162.66,403.24 L163.40,403.31 L164.14,403.37 L164.88,403.43 L165.62,403.48 L166.36,403.54 L167.10,403.59 L167.84,403.63 L168.58,403.68 L169.32,403.72 L170.06,403.76 L170.80,403.80 L171.54,403.83 L172.28,403.86 L173.02,403.89 L173.76,403.92 L174.50,403.95 L175.24,403.97 L175.98,404.00 L176.72,404.02 L177.45,404.04 L178.19,404.06 L178.93,404.08 L179.67,404.09 L180.41,404.11 L181.15,404.12 L181.89,404.14 L182.63,404.15 L183.37,404.16 L184.11,404.17 L184.85,404.18 L185.59,404.19 L186.33,404.20 L187.07,404.21 L187.81,404.22 L188.55,404.22 L189.29,404.23 L190.03,404.23 L190.77,404.24 L191.51,404.24 L192.25,404.25 L192.99,404.25 L193.73,404.26 L194.47,404.26 L195.21,404.26 L195.95,404.27 L196.69,404.27 L197.43,404.27 L198.17,404.28 L198.91,404.28 L199.65,404.28 L200.39,404.28 L201.13,404.28 L201.87,404.29 L202.61,404.29 L203.35,404.29 L204.09,404.29 L204.83,404.29 L205.57,404.29 L206.31,404.29 L207.04,404.29 L207.78,404.29 L208.52,404.29 L209.26,404.29 L210.00,404.30 L210.74,404.30 L211.48,404.30 L212.22,404.30 L212.96,404.30 L213.70,404.30 L214.44,404.30 L215.18,404.30 L215.92,404.30 L216.66,404.30 L217.40,404.30 L218.14,404.30 L218.88,404.30 L219.62,404.30 L220.36,404.30 L221.10,404.30 L221.84,404.30 L222.58,404.30 L223.32,404.30 L224.06,404.30 L224.80,404.30 L225.54,404.30 L226.28,404.30 L227.02,404.30 L227.76,404.30 L228.50,404.30 L229.24,404.30 L229.98,404.30 L230.72,404.30 L231.46,404.30 L232.20,404.30 L232.94,404.30 L233.68,404.30 L234.42,404.30 L235.16,404.30 L235.90,404.30 L236.63,404.30 L237.37,404.30 L238.11,404.30 L238.85,404.30 L239.59,404.30 L240.33,404.30 L241.07,404.30 L241.81,404.30 L242.55,404.30 L243.29,404.30 L244.03,404.30 L244.77,404.30 L245.51,404.30 L246.25,404.30 L246.99,404.30 L247.73,404.30 L248.47,404.30 L249.21,404.30 L249.95,404.30 L250.69,404.30 L251.43,404.30 L252.17,404.30 L252.91,404.30 L253.65,404.30 L254.39,404.30 L255.13,404.30 L255.87,404.30 L256.61,404.30 L257.35,404.30 L258.09,404.30 L258.83,404.30 L259.57,404.30 L260.31,404.30 L261.05,404.30 L261.79,404.30 L262.53,404.30 L263.27,404.30 L264.01,404.30 L264.75,404.30 L265.49,404.30 L266.22,404.30 L266.96,404.30 L267.70,404.30 L268.44,404.30 L269.18,404.30 L269.92,404.30 L270.66,404.30 L271.40,404.30 L272.14,404.30 L272.88,404.30 L273.62,404.30 L274.36,404.30 L275.10,404.30 L275.84,404.30 L276.58,404.30 L277.32,404.30 L278.06,404.30 L278.80,404.30 L279.54,404.30 L280.28,404.30 L281.02,404.30 L281.76,404.30 L282.50,404.30 L283.24,404.30 L283.98,404.30 L284.72,404.30 L285.46,404.30 L286.20,404.30 L286.94,404.30 L287.68,404.30 L288.42,404.30 L289.16,404.30 L289.90,404.30 L290.64,404.30 L291.38,404.30 L292.12,404.30 L292.86,404.30 L293.60,404.30 L294.34,404.30 L295.08,404.30 L295.81,404.30 L296.55,404.30 L297.29,404.30 L298.03,404.30 L298.77,404.30 L299.51,404.30 L300.25,404.30 L300.99,404.30 L301.73,404.30 L302.47,404.30 L303.21,404.30 L303.95,404.30 L304.69,404.30 L305.43,404.30 L306.17,404.30 L306.91,404.30 L307.65,404.30 L308.39,404.30 L309.13,404.30 L309.87,404.30 L310.61,404.30 L311.35,404.30 L312.09,404.30 L312.83,404.30 L313.57,404.30 L314.31,404.30 L315.05,404.30 L315.79,404.30 L316.53,404.30 L317.27,404.30 L318.01,404.30 L318.75,404.30 L319.49,404.30 L320.23,404.30 L320.97,404.30 L321.71,404.30 L322.45,404.30 L323.19,404.30 L323.93,404.30 L324.67,404.30 L325.40,404.30 L326.14,404.30 L326.88,404.30 L327.62,404.30 L328.36,404.30 L329.10,404.30 L329.84,404.30 L330.58,404.30 L331.32,404.30 L332.06,404.30 L332.80,404.30 L333.54,404.30 L334.28,404.30 L335.02,404.30 L335.76,404.30 L336.50,404.30 L337.24,404.30 L337.98,404.30 L338.72,404.30 L339.46,404.30 L340.20,404.30" stroke="#ff7f0e" stroke-dasharray="6.17 2.67"/>
<path d="M44.30,226.60 L45.04,226.61 L45.78,226.72 L46.52,226.94 L47.26,227.25 L48.00,227.65 L48.74,228.10 L49.48,228.61 L50.22,229.16 L50.96,229.74 L51.70,230.36 L52.44,231.01 L53.18,231.68 L53.92,232.38 L54.66,233.10 L55.40,233.83 L56.14,234.59 L56.88,235.36 L57.62,236.15 L58.36,236.95 L59.09,237.77 L59.83,238.60 L60.57,239.44 L61.31,240.30 L62.05,241.17 L62.79,242.05 L63.53,242.94 L64.27,243.85 L65.01,244.76 L65.75,245.68 L66.49,246.62 L67.23,247.56 L67.97,248.51 L68.71,249.48 L69.45,250.45 L70.19,251.43 L70.93,252.42 L71.67,253.41 L72.41,254.42 L73.15,255.43 L73.89,256.45 L74.63,257.48 L75.37,258.51 L76.11,259.56 L76.85,260.60 L77.59,261.66 L78.33,262.72 L79.07,263.79 L79.81,264.86 L80.55,265.94 L81.29,267.02 L82.03,268.11 L82.77,269.21 L83.51,270.30 L84.25,271.41 L84.99,272.52 L85.73,273.63 L86.47,274.75 L87.21,275.87 L87.95,276.99 L88.68,278.12 L89.42,279.25 L90.16,280.38 L90.90,281.52 L91.64,282.66 L92.38,283.80 L93.12,284.95 L93.86,286.09 L94.60,287.24 L95.34,288.39 L96.08,289.54 L96.82,290.69 L97.56,291.85 L98.30,293.00 L99.04,294.15 L99.78,295.31 L100.52,296.46 L101.26,297.62 L102.00,298.77 L102.74,299.93 L103.48,301.08 L104.22,302.23 L104.96,303.39 L105.70,304.54 L106.44,305.69 L107.18,306.83 L107.92,307.98 L108.66,309.12 L109.40,310.26 L110.14,311.40 L110.88,312.54 L111.62,313.67 L112.36,314.81 L113.10,315.93 L113.84,317.06 L114.58,318.18 L115.32,319.30 L116.06,320.41 L116.80,321.52 L117.54,322.63 L118.27,323.73 L119.01,324.82 L119.75,325.91 L120.49,327.00 L121.23,328.08 L121.97,329.16 L122.71,330.23 L123.45,331.30 L124.19,332.36 L124.93,333.41 L125.67,334.46 L126.41,335.50 L127.15,336.54 L127.89,337.57 L128.63,338.59 L129.37,339.60 L130.11,340.61 L130.85,341.62 L131.59,342.61 L132.33,343.60 L133.07,344.58 L133.81,345.55 L134.55,346.52 L135.29,347.48 L136.03,348.43 L136.77,349.37 L137.51,350.30 L138.25,351.23 L138.99,352.15 L139.73,353.06 L140.47,353.96 L141.21,354.85 L141.95,355.74 L142.69,356.61 L143.43,357.48 L144.17,358.34 L144.91,359.19 L145.65,360.03 L146.39,360.86 L147.13,361.69 L147.86,362.50 L148.60,363.31 L149.34,364.10 L150.08,364.89 L150.82,365.67 L151.56,366.43 L152.30,367.19 L153.04,367.94 L153.78,368.68 L154.52,369.41 L155.26,370.13 L156.00,370.85 L156.74,371.55 L157.48,372.24 L158.22,372.93 L158.96,373.60 L159.70,374.27 L160.44,374.92 L161.18,375.57 L161.92,376.21 L162.66,376.83 L163.40,377.45 L164.14,378.06 L164.88,378.66 L165.62,379.25 L166.36,379.83 L167.10,380.40 L167.84,380.96 L168.58,381.52 L169.32,382.06 L170.06,382.60 L170.80,383.12 L171.54,383.64 L172.28,384.15 L173.02,384.65 L173.76,385.14 L174.50,385.62 L175.24,386.09 L175.98,386.56 L176.72,387.01 L177.45,387.46 L178.19,387.90 L178.93,388.33 L179.67,388.75 L180.41,389.17 L181.15,389.57 L181.89,389.97 L182.63,390.36 L183.37,390.74 L184.11,391.11 L184.85,391.48 L185.59,391.84 L186.33,392.19 L187.07,392.53 L187.81,392.87 L188.55,393.20 L189.29,393.52 L190.03,393.83 L190.77,394.14 L191.51,394.44 L192.25,394.73 L192.99,395.02 L193.73,395.30 L194.47,395.57 L195.21,395.84 L195.95,396.10 L196.69,396.35 L197.43,396.60 L198.17,396.84 L198.91,397.08 L199.65,397.31 L200.39,397.53 L201.13,397.75 L201.87,397.96 L202.61,398.17 L203.35,398.37 L204.09,398.56 L204.83,398.75 L205.57,398.94 L206.31,399.12 L207.04,399.30 L207.78,399.47 L208.52,399.63 L209.26,399.79 L210.00,399.95 L210.74,400.10 L211.48,400.25 L212.22,400.39 L212.96,400.53 L213.70,400.67 L214.44,400.80 L215.18,400.93 L215.92,401.05 L216.66,401.17 L217.40,401.29 L218.14,401.40 L218.88,401.51 L219.62,401.61 L220.36,401.72 L221.10,401.81 L221.84,401.91 L222.58,402.00 L223.32,402.09 L224.06,402.18 L224.80,402.26 L225.54,402.34 L226.28,402.42 L227.02,402.50 L227.76,402.57 L228.50,402.64 L229.24,402.71 L229.98,402.77 L230.72,402.84 L231.46,402.90 L232.20,402.96 L232.94,403.01 L233.68,403.07 L234.42,403.12 L235.16,403.17 L235.90,403.22 L236.63,403.27 L237.37,403.31 L238.11,403.35 L238.85,403.40 L239.59,403.44 L240.33,403.47 L241.07,403.51 L241.81,403.55 L242.55,403.58 L243.29,403.61 L244.03,403.65 L244.77,403.68 L245.51,403.70 L246.25,403.73 L246.99,403.76 L247.73,403.78 L248.47,403.81 L249.21,403.83 L249.95,403.86 L250.69,403.88 L251.43,403.90 L252.17,403.92 L252.91,403.94 L253.65,403.95 L254.39,403.97 L255.13,403.99 L255.87,404.00 L256.61,404.02 L257.35,404.03 L258.09,404.05 L258.83,404.06 L259.57,404.07 L260.31,404.08 L261.05,404.09 L261.79,404.11 L262.53,404.12 L263.27,404.13 L264.01,404.14 L264.75,404.14 L265.49,404.15 L266.22,404.16 L266.96,404.17 L267.70,404.18 L268.44,404.18 L269.18,404.19 L269.92,404.19 L270.66,404.20 L271.40,404.21 L272.14,404.21 L272.88,404.22 L273.62,404.22 L274.36,404.23 L275.10,404.23 L275.84,404.23 L276.58,404.24 L277.32,404.24 L278.06,404.25 L278.80,404.25 L279.54,404.25 L280.28,404.25 L281.02,404.26 L281.76,404.26 L282.50,404.26 L283.24,404.26 L283.98,404.27 L284.72,404.27 L285.46,404.27 L286.20,404.27 L286.94,404.27 L287.68,404.28 L288.42,404.28 L289.16,404.28 L289.90,404.28 L290.64,404.28 L291.38,404.28 L292.12,404.28 L292.86,404.28 L293.60,404.29 L294.34,404.29 L295.08,404.29 L295.81,404.29 L296.55,404.29 L297.29,404.29 L298.03,404.29 L298.77,404.29 L299.51,404.29 L300.25,404.29 L300.99,404.29 L301.73,404.29 L302.47,404.29 L303.21,404.29 L303.95,404.29 L304.69,404.30 L305.43,404.30 L306.17,404.30 L306.91,404.30 L307.65,404.30 L308.39,404.30 L309.13,404.30 L309.87,404.30 L310.61,404.30 L311.35,404.30 L312.09,404.30 L312.83,404.30 L313.57,404.30 L314.31,404.30 L315.05,404.30 L315.79,404.30 L316.53,404.30 L317.27,404.30 L318.01,404.30 L318.75,404.30 L319.49,404.30 L320.23,404.30 L320.97,404.30 L321.71,404.30 L322.45,404.30 L323.19,404.30 L323.93,404.30 L324.67,404.30 L325.40,404.30 L326.14,404.30 L326.88,404.30 L327.62,404.30 L328.36,404.30 L329.10,404.30 L329.84,404.30 L330.58,404.30 L331.32,404.30 L332.06,404.30 L332.80,404.30 L333.54,404.30 L334.28,404.30 L335.02,404.30 L335.76,404.30 L336.50,404.30 L337.24,404.30 L337.98,404.30 L338.72,404.30 L339.46,404.30 L340.20,404.30" stroke="#0000ff" stroke-linecap="square"/>
<path d="M44.30,226.60 L45.04,226.61 L45.78,226.73 L46.52,227.02 L47.26,227.46 L48.00,228.03 L48.74,228.69 L49.48,229.44 L50.22,230.25 L50.96,231.11 L51.70,232.02 L52.44,232.97 L53.18,233.94 L53.92,234.94 L54.66,235.97 L55.40,237.01 L56.14,238.07 L56.88,239.15 L57.62,240.24 L58.36,241.35 L59.09,242.46 L59.83,243.58 L60.57,244.72 L61.31,245.86 L62.05,247.01 L62.79,248.16 L63.53,249.33 L64.27,250.50 L65.01,251.67 L65.75,252.85 L66.49,254.04 L67.23,255.23 L67.97,256.42 L68.71,257.62 L69.45,258.82 L70.19,260.03 L70.93,261.24 L71.67,262.45 L72.41,263.67 L73.15,264.88 L73.89,266.10 L74.63,267.33 L75.37,268.55 L76.11,269.77 L76.85,271.00 L77.59,272.23 L78.33,273.46 L79.07,274.69 L79.81,275.92 L80.55,277.16 L81.29,278.39 L82.03,279.62 L82.77,280.85 L83.51,282.09 L84.25,283.32 L84.99,284.55 L85.73,285.78 L86.47,287.01 L87.21,288.24 L87.95,289.47 L88.68,290.70 L89.42,291.92 L90.16,293.15 L90.90,294.37 L91.64,295.59 L92.38,296.81 L93.12,298.02 L93.86,299.23 L94.60,300.44 L95.34,301.65 L96.08,302.85 L96.82,304.06 L97.56,305.25 L98.30,306.45 L99.04,307.64 L99.78,308.82 L100.52,310.01 L101.26,311.18 L102.00,312.36 L102.74,313.53 L103.48,314.69 L104.22,315.85 L104.96,317.01 L105.70,318.16 L106.44,319.30 L107.18,320.44 L107.92,321.57 L108.66,322.70 L109.40,323.82 L110.14,324.94 L110.88,326.05 L111.62,327.15 L112.36,328.25 L113.10,329.34 L113.84,330.43 L114.58,331.51 L115.32,332.58 L116.06,333.64 L116.80,334.70 L117.54,335.75 L118.27,336.79 L119.01,337.83 L119.75,338.85 L120.49,339.87 L121.23,340.89 L121.97,341.89 L122.71,342.89 L123.45,343.88 L124.19,344.86 L124.93,345.83 L125.67,346.80 L126.41,347.75 L127.15,348.70 L127.89,349.64 L128.63,350.57 L129.37,351.49 L130.11,352.40 L130.85,353.31 L131.59,354.20 L132.33,355.09 L133.07,355.97 L133.81,356.84 L134.55,357.70 L135.29,358.55 L136.03,359.39 L136.77,360.22 L137.51,361.04 L138.25,361.86 L138.99,362.66 L139.73,363.46 L140.47,364.24 L141.21,365.02 L141.95,365.79 L142.69,366.55 L143.43,367.30 L144.17,368.03 L144.91,368.76 L145.65,369.48 L146.39,370.20 L147.13,370.90 L147.86,371.59 L148.60,372.27 L149.34,372.95 L150.08,373.61 L150.82,374.27 L151.56,374.91 L152.30,375.55 L153.04,376.17 L153.78,376.79 L154.52,377.40 L155.26,378.00 L156.00,378.59 L156.74,379.17 L157.48,379.74 L158.22,380.30 L158.96,380.86 L159.70,381.40 L160.44,381.94 L161.18,382.46 L161.92,382.98 L162.66,383.49 L163.40,383.99 L164.14,384.48 L164.88,384.97 L165.62,385.44 L166.36,385.91 L167.10,386.36 L167.84,386.81 L168.58,387.26 L169.32,387.69 L170.06,388.11 L170.80,388.53 L171.54,388.94 L172.28,389.34 L173.02,389.73 L173.76,390.12 L174.50,390.49 L175.24,390.86 L175.98,391.23 L176.72,391.58 L177.45,391.93 L178.19,392.27 L178.93,392.60 L179.67,392.93 L180.41,393.25 L181.15,393.56 L181.89,393.87 L182.63,394.16 L183.37,394.46 L184.11,394.74 L184.85,395.02 L185.59,395.29 L186.33,395.56 L187.07,395.82 L187.81,396.07 L188.55,396.32 L189.29,396.56 L190.03,396.80 L190.77,397.03 L191.51,397.25 L192.25,397.47 L192.99,397.68 L193.73,397.89 L194.47,398.10 L195.21,398.29 L195.95,398.49 L196.69,398.67 L197.43,398.86 L198.17,399.03 L198.91,399.21 L199.65,399.38 L200.39,399.54 L201.13,399.70 L201.87,399.85 L202.61,400.00 L203.35,400.15 L204.09,400.29 L204.83,400.43 L205.57,400.57 L206.31,400.70 L207.04,400.82 L207.78,400.95 L208.52,401.07 L209.26,401.18 L210.00,401.29 L210.74,401.40 L211.48,401.51 L212.22,401.61 L212.96,401.71 L213.70,401.80 L214.44,401.90 L215.18,401.99 L215.92,402.08 L216.66,402.16 L217.40,402.24 L218.14,402.32 L218.88,402.40 L219.62,402.47 L220.36,402.54 L221.10,402.61 L221.84,402.68 L222.58,402.74 L223.32,402.80 L224.06,402.87 L224.80,402.92 L225.54,402.98 L226.28,403.03 L227.02,403.09 L227.76,403.14 L228.50,403.18 L229.24,403.23 L229.98,403.28 L230.72,403.32 L231.46,403.36 L232.20,403.40 L232.94,403.44 L233.68,403.48 L234.42,403.51 L235.16,403.55 L235.90,403.58 L236.63,403.61 L237.37,403.64 L238.11,403.67 L238.85,403.70 L239.59,403.73 L240.33,403.75 L241.07,403.78 L241.81,403.80 L242.55,403.83 L243.29,403.85 L244.03,403.87 L244.77,403.89 L245.51,403.91 L246.25,403.93 L246.99,403.95 L247.73,403.96 L248.47,403.98 L249.21,403.99 L249.95,404.01 L250.69,404.02 L251.43,404.04 L252.17,404.05 L252.91,404.06 L253.65,404.07 L254.39,404.09 L255.13,404.10 L255.87,404.11 L256.61,404.12 L257.35,404.13 L258.09,404.14 L258.83,404.14 L259.57,404.15 L260.31,404.16 L261.05,404.17 L261.79,404.17 L262.53,404.18 L263.27,404.19 L264.01,404.19 L264.75,404.20 L265.49,404.20 L266.22,404.21 L266.96,404.21 L267.70,404.22 L268.44,404.22 L269.18,404.23 L269.92,404.23 L270.66,404.24 L271.40,404.24 L272.14,404.24 L272.88,404.25 L273.62,404.25 L274.36,404.25 L275.10,404.26 L275.84,404.26 L276.58,404.26 L277.32,404.26 L278.06,404.26 L278.80,404.27 L279.54,404.27 L280.28,404.27 L281.02,404.27 L281.76,404.27 L282.50,404.28 L283.24,404.28 L283.98,404.28 L284.72,404.28 L285.46,404.28 L286.20,404.28 L286.94,404.28 L287.68,404.28 L288.42,404.29 L289.16,404.29 L289.90,404.29 L290.64,404.29 L291.38,404.29 L292.12,404.29 L292.86,404.29 L293.60,404.29 L294.34,404.29 L295.08,404.29 L295.81,404.29 L296.55,404.29 L297.29,404.29 L298.03,404.29 L298.77,404.29 L299.51,404.29 L300.25,404.30 L300.99,404.30 L301.73,404.30 L302.47,404.30 L303.21,404.30 L303.95,404.30 L304.69,404.30 L305.43,404.30 L306.17,404.30 L306.91,404.30 L307.65,404.30 L308.39,404.30 L309.13,404.30 L309.87,404.30 L310.61,404.30 L311.35,404.30 L312.09,404.30 L312.83,404.30 L313.57,404.30 L314.31,404.30 L315.05,404.30 L315.79,404.30 L316.53,404.30 L317.27,404.30 L318.01,404.30 L318.75,404.30 L319.49,404.30 L320.23,404.30 L320.97,404.30 L321.71,404.30 L322.45,404.30 L323.19,404.30 L323.93,404.30 L324.67,404.30 L325.40,404.30 L326.14,404.30 L326.88,404.30 L327.62,404.30 L328.36,404.30 L329.10,404.30 L329.84,404.30 L330.58,404.30 L331.32,404.30 L332.06,404.30 L332.80,404.30 L333.54,404.30 L334.28,404.30 L335.02,404.30 L335.76,404.30 L336.50,404.30 L337.24,404.30 L337.98,404.30 L338.72,404.30 L339.46,404.30 L340.20,404.30" stroke="#0000ff" stroke-dasharray="6.17 2.67"/>
<path d="M44.30,226.60 L45.04,226.63 L45.78,226.70 L46.52,226.80 L47.26,226.93 L48.00,227.07 L48.74,227.24 L49.48,227.42 L50.22,227.62 L50.96,227.84 L51.70,228.07 L52.44,228.31 L53.18,228.57 L53.92,228.85 L54.66,229.13 L55.40,229.43 L56.14,229.75 L56.88,230.07 L57.62,230.41 L58.36,230.76 L59.09,231.12 L59.83,231.49 L60.57,231.88 L61.31,232.28 L62.05,232.68 L62.79,233.10 L63.53,233.54 L64.27,233.98 L65.01,234.43 L65.75,234.90 L66.49,235.37 L67.23,235.86 L67.97,236.35 L68.71,236.86 L69.45,237.37 L70.19,237.90 L70.93,238.44 L71.67,238.99 L72.41,239.54 L73.15,240.11 L73.89,240.69 L74.63,241.27 L75.37,241.87 L76.11,242.47 L76.85,243.09 L77.59,243.71 L78.33,244.34 L79.07,244.99 L79.81,245.64 L80.55,246.30 L81.29,246.96 L82.03,247.64 L82.77,248.32 L83.51,249.02 L84.25,249.72 L84.99,250.43 L85.73,251.15 L86.47,251.87 L87.21,252.60 L87.95,253.35 L88.68,254.09 L89.42,254.85 L90.16,255.61 L90.90,256.38 L91.64,257.16 L92.38,257.94 L93.12,258.73 L93.86,259.53 L94.60,260.34 L95.34,261.15 L96.08,261.96 L96.82,262.79 L97.56,263.61 L98.30,264.45 L99.04,265.29 L99.78,266.14 L100.52,266.99 L101.26,267.84 L102.00,268.71 L102.74,269.57 L103.48,270.44 L104.22,271.32 L104.96,272.20 L105.70,273.09 L106.44,273.98 L107.18,274.87 L107.92,275.77 L108.66,276.67 L109.40,277.58 L110.14,278.49 L110.88,279.41 L111.62,280.32 L112.36,281.24 L113.10,282.17 L113.84,283.09 L114.58,284.02 L115.32,284.95 L116.06,285.89 L116.80,286.82 L117.54,287.76 L118.27,288.70 L119.01,289.65 L119.75,290.59 L120.49,291.54 L121.23,292.48 L121.97,293.43 L122.71,294.38 L123.45,295.34 L124.19,296.29 L124.93,297.24 L125.67,298.20 L126.41,299.15 L127.15,300.10 L127.89,301.06 L128.63,302.01 L129.37,302.97 L130.11,303.92 L130.85,304.88 L131.59,305.83 L132.33,306.79 L133.07,307.74 L133.81,308.69 L134.55,309.64 L135.29,310.59 L136.03,311.54 L136.77,312.49 L137.51,313.43 L138.25,314.38 L138.99,315.32 L139.73,316.26 L140.47,317.20 L141.21,318.13 L141.95,319.07 L142.69,320.00 L143.43,320.93 L144.17,321.85 L144.91,322.77 L145.65,323.69 L146.39,324.61 L147.13,325.53 L147.86,326.44 L148.60,327.34 L149.34,328.25 L150.08,329.15 L150.82,330.05 L151.56,330.94 L152.30,331.83 L153.04,332.71 L153.78,333.60 L154.52,334.47 L155.26,335.34 L156.00,336.21 L156.74,337.08 L157.48,337.94 L158.22,338.79 L158.96,339.64 L159.70,340.49 L160.44,341.33 L161.18,342.16 L161.92,342.99 L162.66,343.82 L163.40,344.64 L164.14,345.45 L164.88,346.26 L165.62,347.06 L166.36,347.86 L167.10,348.66 L167.84,349.44 L168.58,350.22 L169.32,351.00 L170.06,351.77 L170.80,352.53 L171.54,353.29 L172.28,354.04 L173.02,354.79 L173.76,355.53 L174.50,356.26 L175.24,356.99 L175.98,357.71 L176.72,358.43 L177.45,359.14 L178.19,359.84 L178.93,360.54 L179.67,361.23 L180.41,361.91 L181.15,362.59 L181.89,363.26 L182.63,363.92 L183.37,364.58 L184.11,365.23 L184.85,365.87 L185.59,366.51 L186.33,367.14 L187.07,367.77 L187.81,368.39 L188.55,369.00 L189.29,369.60 L190.03,370.20 L190.77,370.79 L191.51,371.38 L192.25,371.95 L192.99,372.53 L193.73,373.09 L194.47,373.65 L195.21,374.20 L195.95,374.74 L196.69,375.28 L197.43,375.81 L198.17,376.34 L198.91,376.86 L199.65,377.37 L200.39,377.87 L201.13,378.37 L201.87,378.86 L202.61,379.35 L203.35,379.83 L204.09,380.30 L204.83,380.77 L205.57,381.23 L206.31,381.68 L207.04,382.13 L207.78,382.57 L208.52,383.00 L209.26,383.43 L210.00,383.85 L210.74,384.27 L211.48,384.68 L212.22,385.08 L212.96,385.48 L213.70,385.87 L214.44,386.26 L215.18,386.64 L215.92,387.01 L216.66,387.38 L217.40,387.74 L218.14,388.09 L218.88,388.44 L219.62,388.79 L220.36,389.13 L221.10,389.46 L221.84,389.79 L222.58,390.11 L223.32,390.43 L224.06,390.74 L224.80,391.04 L225.54,391.34 L226.28,391.64 L227.02,391.93 L227.76,392.22 L228.50,392.49 L229.24,392.77 L229.98,393.04 L230.72,393.30 L231.46,393.56 L232.20,393.82 L232.94,394.07 L233.68,394.32 L234.42,394.56 L235.16,394.79 L235.90,395.02 L236.63,395.25 L237.37,395.47 L238.11,395.69 L238.85,395.91 L239.59,396.12 L240.33,396.32 L241.07,396.52 L241.81,396.72 L242.55,396.91 L243.29,397.10 L244.03,397.29 L244.77,397.47 L245.51,397.65 L246.25,397.82 L246.99,397.99 L247.73,398.16 L248.47,398.32 L249.21,398.48 L249.95,398.64 L250.69,398.79 L251.43,398.94 L252.17,399.08 L252.91,399.23 L253.65,399.36 L254.39,399.50 L255.13,399.63 L255.87,399.76 L256.61,399.89 L257.35,400.01 L258.09,400.13 L258.83,400.25 L259.57,400.37 L260.31,400.48 L261.05,400.59 L261.79,400.70 L262.53,400.80 L263.27,400.90 L264.01,401.00 L264.75,401.10 L265.49,401.19 L266.22,401.29 L266.96,401.38 L267.70,401.46 L268.44,401.55 L269.18,401.63 L269.92,401.71 L270.66,401.79 L271.40,401.87 L272.14,401.94 L272.88,402.02 L273.62,402.09 L274.36,402.16 L275.10,402.22 L275.84,402.29 L276.58,402.35 L277.32,402.41 L278.06,402.47 L278.80,402.53 L279.54,402.59 L280.28,402.64 L281.02,402.70 L281.76,402.75 L282.50,402.80 L283.24,402.85 L283.98,402.90 L284.72,402.94 L285.46,402.99 L286.20,403.03 L286.94,403.08 L287.68,403.12 L288.42,403.16 L289.16,403.20 L289.90,403.23 L290.64,403.27 L291.38,403.31 L292.12,403.34 L292.86,403.37 L293.60,403.41 L294.34,403.44 L295.08,403.47 L295.81,403.50 L296.55,403.52 L297.29,403.55 L298.03,403.58 L298.77,403.61 L299.51,403.63 L300.25,403.65 L300.99,403.68 L301.73,403.70 L302.47,403.72 L303.21,403.74 L303.95,403.76 L304.69,403.78 L305.43,403.80 L306.17,403.82 L306.91,403.84 L307.65,403.86 L308.39,403.87 L309.13,403.89 L309.87,403.91 L310.61,403.92 L311.35,403.94 L312.09,403.95 L312.83,403.96 L313.57,403.98 L314.31,403.99 L315.05,404.00 L315.79,404.01 L316.53,404.02 L317.27,404.03 L318.01,404.05 L318.75,404.06 L319.49,404.07 L320.23,404.07 L320.97,404.08 L321.71,404.09 L322.45,404.10 L323.19,404.11 L323.93,404.12 L324.67,404.12 L325.40,404.13 L326.14,404.14 L326.88,404.15 L327.62,404.15 L328.36,404.16 L329.10,404.16 L329.84,404.17 L330.58,404.18 L331.32,404.18 L332.06,404.19 L332.80,404.19 L333.54,404.20 L334.28,404.20 L335.02,404.20 L335.76,404.21 L336.50,404.21 L337.24,404.22 L337.98,404.22 L338.72,404.22 L339.46,404.23 L340.20,404.23" stroke="#008000" stroke-linecap="square"/>
<path d="M44.30,226.60 L45.04,226.74 L45.78,226.88 L46.52,227.04 L47.26,227.23 L48.00,227.44 L48.74,227.67 L49.48,227.92 L50.22,228.19 L50.96,228.48 L51.70,228.78 L52.44,229.11 L53.18,229.45 L53.92,229.80 L54.66,230.18 L55.40,230.57 L56.14,230.97 L56.88,231.39 L57.62,231.83 L58.36,232.28 L59.09,232.75 L59.83,233.23 L60.57,233.73 L61.31,234.24 L62.05,234.76 L62.79,235.30 L63.53,235.85 L64.27,236.42 L65.01,237.00 L65.75,237.59 L66.49,238.19 L67.23,238.81 L67.97,239.44 L68.71,240.08 L69.45,240.73 L70.19,241.40 L70.93,242.07 L71.67,242.76 L72.41,243.46 L73.15,244.17 L73.89,244.89 L74.63,245.63 L75.37,246.37 L76.11,247.12 L76.85,247.88 L77.59,248.65 L78.33,249.44 L79.07,250.23 L79.81,251.03 L80.55,251.84 L81.29,252.65 L82.03,253.48 L82.77,254.31 L83.51,255.16 L84.25,256.01 L84.99,256.87 L85.73,257.73 L86.47,258.61 L87.21,259.49 L87.95,260.37 L88.68,261.27 L89.42,262.17 L90.16,263.08 L90.90,263.99 L91.64,264.91 L92.38,265.83 L93.12,266.76 L93.86,267.70 L94.60,268.64 L95.34,269.58 L96.08,270.53 L96.82,271.49 L97.56,272.45 L98.30,273.41 L99.04,274.38 L99.78,275.35 L100.52,276.32 L101.26,277.30 L102.00,278.28 L102.74,279.26 L103.48,280.25 L104.22,281.24 L104.96,282.23 L105.70,283.22 L106.44,284.21 L107.18,285.21 L107.92,286.21 L108.66,287.21 L109.40,288.21 L110.14,289.21 L110.88,290.22 L111.62,291.22 L112.36,292.22 L113.10,293.23 L113.84,294.23 L114.58,295.24 L115.32,296.24 L116.06,297.25 L116.80,298.25 L117.54,299.25 L118.27,300.26 L119.01,301.26 L119.75,302.26 L120.49,303.26 L121.23,304.25 L121.97,305.25 L122.71,306.24 L123.45,307.23 L124.19,308.22 L124.93,309.21 L125.67,310.20 L126.41,311.18 L127.15,312.16 L127.89,313.14 L128.63,314.11 L129.37,315.09 L130.11,316.05 L130.85,317.02 L131.59,317.98 L132.33,318.94 L133.07,319.89 L133.81,320.85 L134.55,321.79 L135.29,322.74 L136.03,323.68 L136.77,324.61 L137.51,325.54 L138.25,326.47 L138.99,327.39 L139.73,328.31 L140.47,329.22 L141.21,330.13 L141.95,331.03 L142.69,331.93 L143.43,332.82 L144.17,333.71 L144.91,334.59 L145.65,335.46 L146.39,336.34 L147.13,337.20 L147.86,338.06 L148.60,338.92 L149.34,339.77 L150.08,340.61 L150.82,341.45 L151.56,342.28 L152.30,343.10 L153.04,343.92 L153.78,344.74 L154.52,345.55 L155.26,346.35 L156.00,347.14 L156.74,347.93 L157.48,348.71 L158.22,349.49 L158.96,350.26 L159.70,351.02 L160.44,351.78 L161.18,352.53 L161.92,353.28 L162.66,354.01 L163.40,354.75 L164.14,355.47 L164.88,356.19 L165.62,356.90 L166.36,357.60 L167.10,358.30 L167.84,358.99 L168.58,359.68 L169.32,360.36 L170.06,361.03 L170.80,361.69 L171.54,362.35 L172.28,363.00 L173.02,363.64 L173.76,364.28 L174.50,364.91 L175.24,365.54 L175.98,366.15 L176.72,366.77 L177.45,367.37 L178.19,367.97 L178.93,368.56 L179.67,369.14 L180.41,369.72 L181.15,370.29 L181.89,370.85 L182.63,371.41 L183.37,371.96 L184.11,372.50 L184.85,373.04 L185.59,373.57 L186.33,374.10 L187.07,374.62 L187.81,375.13 L188.55,375.63 L189.29,376.13 L190.03,376.62 L190.77,377.11 L191.51,377.59 L192.25,378.06 L192.99,378.53 L193.73,378.99 L194.47,379.44 L195.21,379.89 L195.95,380.34 L196.69,380.77 L197.43,381.20 L198.17,381.63 L198.91,382.05 L199.65,382.46 L200.39,382.86 L201.13,383.27 L201.87,383.66 L202.61,384.05 L203.35,384.43 L204.09,384.81 L204.83,385.18 L205.57,385.55 L206.31,385.91 L207.04,386.27 L207.78,386.62 L208.52,386.96 L209.26,387.30 L210.00,387.64 L210.74,387.97 L211.48,388.29 L212.22,388.61 L212.96,388.92 L213.70,389.23 L214.44,389.54 L215.18,389.83 L215.92,390.13 L216.66,390.42 L217.40,390.70 L218.14,390.98 L218.88,391.26 L219.62,391.53 L220.36,391.79 L221.10,392.05 L221.84,392.31 L222.58,392.56 L223.32,392.81 L224.06,393.06 L224.80,393.30 L225.54,393.53 L226.28,393.76 L227.02,393.99 L227.76,394.21 L228.50,394.43 L229.24,394.65 L229.98,394.86 L230.72,395.06 L231.46,395.27 L232.20,395.47 L232.94,395.66 L233.68,395.86 L234.42,396.05 L235.16,396.23 L235.90,396.41 L236.63,396.59 L237.37,396.77 L238.11,396.94 L238.85,397.11 L239.59,397.27 L240.33,397.43 L241.07,397.59 L241.81,397.75 L242.55,397.90 L243.29,398.05 L244.03,398.19 L244.77,398.34 L245.51,398.48 L246.25,398.62 L246.99,398.75 L247.73,398.88 L248.47,399.01 L249.21,399.14 L249.95,399.26 L250.69,399.39 L251.43,399.51 L252.17,399.62 L252.91,399.74 L253.65,399.85 L254.39,399.96 L255.13,400.06 L255.87,400.17 L256.61,400.27 L257.35,400.37 L258.09,400.47 L258.83,400.57 L259.57,400.66 L260.31,400.75 L261.05,400.84 L261.79,400.93 L262.53,401.01 L263.27,401.10 L264.01,401.18 L264.75,401.26 L265.49,401.34 L266.22,401.42 L266.96,401.49 L267.70,401.56 L268.44,401.64 L269.18,401.71 L269.92,401.77 L270.66,401.84 L271.40,401.90 L272.14,401.97 L272.88,402.03 L273.62,402.09 L274.36,402.15 L275.10,402.21 L275.84,402.26 L276.58,402.32 L277.32,402.37 L278.06,402.43 L278.80,402.48 L279.54,402.53 L280.28,402.57 L281.02,402.62 L281.76,402.67 L282.50,402.71 L283.24,402.76 L283.98,402.80 L284.72,402.84 L285.46,402.88 L286.20,402.92 L286.94,402.96 L287.68,403.00 L288.42,403.04 L289.16,403.07 L289.90,403.11 L290.64,403.14 L291.38,403.17 L292.12,403.21 L292.86,403.24 L293.60,403.27 L294.34,403.30 L295.08,403.33 L295.81,403.36 L296.55,403.38 L297.29,403.41 L298.03,403.44 L298.77,403.46 L299.51,403.49 L300.25,403.51 L300.99,403.53 L301.73,403.56 L302.47,403.58 L303.21,403.60 L303.95,403.62 L304.69,403.64 L305.43,403.66 L306.17,403.68 L306.91,403.70 L307.65,403.72 L308.39,403.74 L309.13,403.75 L309.87,403.77 L310.61,403.79 L311.35,403.80 L312.09,403.82 L312.83,403.83 L313.57,403.85 L314.31,403.86 L315.05,403.88 L315.79,403.89 L316.53,403.90 L317.27,403.91 L318.01,403.93 L318.75,403.94 L319.49,403.95 L320.23,403.96 L320.97,403.97 L321.71,403.98 L322.45,403.99 L323.19,404.00 L323.93,404.01 L324.67,404.02 L325.40,404.03 L326.14,404.04 L326.88,404.05 L327.62,404.06 L328.36,404.06 L329.10,404.07 L329.84,404.08 L330.58,404.09 L331.32,404.09 L332.06,404.10 L332.80,404.11 L333.54,404.11 L334.28,404.12 L335.02,404.13 L335.76,404.13 L336.50,404.14 L337.24,404.14 L337.98,404.15 L338.72,404.15 L339.46,404.16 L340.20,404.16" stroke="#008000" stroke-dasharray="6.17 2.67"/>
<path d="M44.30,226.60 L45.04,226.60 L45.78,226.60 L46.52,226.60 L47.26,226.61 L48.00,226.63 L48.74,226.65 L49.48,226.69 L50.22,226.74 L50.96,226.80 L51.70,226.88 L52.44,226.98 L53.18,227.09 L53.92,227.21 L54.66,227.35 L55.40,227.51 L56.14,227.68 L56.88,227.87 L57.62,228.07 L58.36,228.29 L59.09,228.52 L59.83,228.77 L60.57,229.03 L61.31,229.31 L62.05,229.60 L62.79,229.90 L63.53,230.22 L64.27,230.55 L65.01,230.89 L65.75,231.25 L66.49,231.62 L67.23,232.00 L67.97,232.39 L68.71,232.79 L69.45,233.21 L70.19,233.64 L70.93,234.07 L71.67,234.52 L72.41,234.98 L73.15,235.45 L73.89,235.94 L74.63,236.43 L75.37,236.93 L76.11,237.44 L76.85,237.96 L77.59,238.49 L78.33,239.03 L79.07,239.58 L79.81,240.14 L80.55,240.70 L81.29,241.28 L82.03,241.86 L82.77,242.46 L83.51,243.06 L84.25,243.67 L84.99,244.28 L85.73,244.91 L86.47,245.54 L87.21,246.18 L87.95,246.83 L88.68,247.48 L89.42,248.15 L90.16,248.82 L90.90,249.49 L91.64,250.17 L92.38,250.86 L93.12,251.56 L93.86,252.26 L94.60,252.97 L95.34,253.69 L96.08,254.41 L96.82,255.13 L97.56,255.86 L98.30,256.60 L99.04,257.35 L99.78,258.09 L100.52,258.85 L101.26,259.61 L102.00,260.37 L102.74,261.14 L103.48,261.91 L104.22,262.69 L104.96,263.48 L105.70,264.26 L106.44,265.06 L107.18,265.85 L107.92,266.65 L108.66,267.45 L109.40,268.26 L110.14,269.07 L110.88,269.89 L111.62,270.71 L112.36,271.53 L113.10,272.35 L113.84,273.18 L114.58,274.01 L115.32,274.85 L116.06,275.68 L116.80,276.52 L117.54,277.37 L118.27,278.21 L119.01,279.06 L119.75,279.91 L120.49,280.76 L121.23,281.61 L121.97,282.47 L122.71,283.32 L123.45,284.18 L124.19,285.04 L124.93,285.91 L125.67,286.77 L126.41,287.63 L127.15,288.50 L127.89,289.37 L128.63,290.23 L129.37,291.10 L130.11,291.97 L130.85,292.84 L131.59,293.71 L132.33,294.58 L133.07,295.45 L133.81,296.32 L134.55,297.20 L135.29,298.07 L136.03,298.94 L136.77,299.81 L137.51,300.68 L138.25,301.55 L138.99,302.42 L139.73,303.29 L140.47,304.16 L141.21,305.03 L141.95,305.90 L142.69,306.76 L143.43,307.63 L144.17,308.49 L144.91,309.36 L145.65,310.22 L146.39,311.08 L147.13,311.94 L147.86,312.79 L148.60,313.65 L149.34,314.50 L150.08,315.36 L150.82,316.21 L151.56,317.05 L152.30,317.90 L153.04,318.74 L153.78,319.59 L154.52,320.43 L155.26,321.26 L156.00,322.10 L156.74,322.93 L157.48,323.76 L158.22,324.58 L158.96,325.41 L159.70,326.23 L160.44,327.05 L161.18,327.86 L161.92,328.67 L162.66,329.48 L163.40,330.29 L164.14,331.09 L164.88,331.89 L165.62,332.68 L166.36,333.47 L167.10,334.26 L167.84,335.05 L168.58,335.83 L169.32,336.61 L170.06,337.38 L170.80,338.15 L171.54,338.91 L172.28,339.68 L173.02,340.43 L173.76,341.19 L174.50,341.94 L175.24,342.68 L175.98,343.42 L176.72,344.16 L177.45,344.89 L178.19,345.62 L178.93,346.34 L179.67,347.06 L180.41,347.78 L181.15,348.49 L181.89,349.19 L182.63,349.89 L183.37,350.59 L184.11,351.28 L184.85,351.97 L185.59,352.65 L186.33,353.33 L187.07,354.00 L187.81,354.67 L188.55,355.33 L189.29,355.99 L190.03,356.64 L190.77,357.29 L191.51,357.93 L192.25,358.57 L192.99,359.20 L193.73,359.83 L194.47,360.45 L195.21,361.07 L195.95,361.68 L196.69,362.29 L197.43,362.89 L198.17,363.48 L198.91,364.08 L199.65,364.66 L200.39,365.24 L201.13,365.82 L201.87,366.39 L202.61,366.95 L203.35,367.51 L204.09,368.07 L204.83,368.62 L205.57,369.16 L206.31,369.70 L207.04,370.23 L207.78,370.76 L208.52,371.28 L209.26,371.80 L210.00,372.31 L210.74,372.82 L211.48,373.32 L212.22,373.82 L212.96,374.31 L213.70,374.79 L214.44,375.27 L215.18,375.75 L215.92,376.22 L216.66,376.68 L217.40,377.14 L218.14,377.59 L218.88,378.04 L219.62,378.49 L220.36,378.92 L221.10,379.36 L221.84,379.79 L222.58,380.21 L223.32,380.63 L224.06,381.04 L224.80,381.45 L225.54,381.85 L226.28,382.25 L227.02,382.64 L227.76,383.03 L228.50,383.41 L229.24,383.79 L229.98,384.16 L230.72,384.53 L231.46,384.89 L232.20,385.25 L232.94,385.60 L233.68,385.95 L234.42,386.29 L235.16,386.63 L235.90,386.97 L236.63,387.30 L237.37,387.62 L238.11,387.94 L238.85,388.26 L239.59,388.57 L240.33,388.88 L241.07,389.18 L241.81,389.48 L242.55,389.77 L243.29,390.06 L244.03,390.34 L244.77,390.62 L245.51,390.90 L246.25,391.17 L246.99,391.44 L247.73,391.70 L248.47,391.96 L249.21,392.22 L249.95,392.47 L250.69,392.71 L251.43,392.96 L252.17,393.20 L252.91,393.43 L253.65,393.66 L254.39,393.89 L255.13,394.11 L255.87,394.33 L256.61,394.55 L257.35,394.76 L258.09,394.97 L258.83,395.17 L259.57,395.38 L260.31,395.57 L261.05,395.77 L261.79,395.96 L262.53,396.15 L263.27,396.33 L264.01,396.51 L264.75,396.69 L265.49,396.87 L266.22,397.04 L266.96,397.20 L267.70,397.37 L268.44,397.53 L269.18,397.69 L269.92,397.85 L270.66,398.00 L271.40,398.15 L272.14,398.30 L272.88,398.44 L273.62,398.58 L274.36,398.72 L275.10,398.86 L275.84,398.99 L276.58,399.12 L277.32,399.25 L278.06,399.37 L278.80,399.49 L279.54,399.61 L280.28,399.73 L281.02,399.85 L281.76,399.96 L282.50,400.07 L283.24,400.18 L283.98,400.28 L284.72,400.39 L285.46,400.49 L286.20,400.59 L286.94,400.68 L287.68,400.78 L288.42,400.87 L289.16,400.96 L289.90,401.05 L290.64,401.14 L291.38,401.22 L292.12,401.31 L292.86,401.39 L293.60,401.47 L294.34,401.54 L295.08,401.62 L295.81,401.69 L296.55,401.76 L297.29,401.83 L298.03,401.90 L298.77,401.97 L299.51,402.04 L300.25,402.10 L300.99,402.16 L301.73,402.22 L302.47,402.28 L303.21,402.34 L303.95,402.40 L304.69,402.45 L305.43,402.50 L306.17,402.56 L306.91,402.61 L307.65,402.66 L308.39,402.71 L309.13,402.75 L309.87,402.80 L310.61,402.84 L311.35,402.89 L312.09,402.93 L312.83,402.97 L313.57,403.01 L314.31,403.05 L315.05,403.09 L315.79,403.13 L316.53,403.16 L317.27,403.20 L318.01,403.23 L318.75,403.27 L319.49,403.30 L320.23,403.33 L320.97,403.36 L321.71,403.39 L322.45,403.42 L323.19,403.45 L323.93,403.48 L324.67,403.50 L325.40,403.53 L326.14,403.55 L326.88,403.58 L327.62,403.60 L328.36,403.62 L329.10,403.65 L329.84,403.67 L330.58,403.69 L331.32,403.71 L332.06,403.73 L332.80,403.75 L333.54,403.77 L334.28,403.79 L335.02,403.80 L335.76,403.82 L336.50,403.84 L337.24,403.85 L337.98,403.87 L338.72,403.88 L339.46,403.90 L340.20,403.91" stroke="#ff0000" stroke-linecap="square"/>
<path d="M44.30,226.60 L45.04,226.60 L45.78,226.60 L46.52,226.61 L47.26,226.63 L48.00,226.66 L48.74,226.70 L49.48,226.76 L50.22,226.84 L50.96,226.93 L51.70,227.03 L52.44,227.15 L53.18,227.29 L53.92,227.45 L54.66,227.62 L55.40,227.80 L56.14,228.01 L56.88,228.22 L57.62,228.46 L58.36,228.70 L59.09,228.97 L59.83,229.24 L60.57,229.54 L61.31,229.84 L62.05,230.16 L62.79,230.49 L63.53,230.84 L64.27,231.20 L65.01,231.58 L65.75,231.96 L66.49,232.36 L67.23,232.78 L67.97,233.20 L68.71,233.64 L69.45,234.09 L70.19,234.55 L70.93,235.02 L71.67,235.50 L72.41,236.00 L73.15,236.51 L73.89,237.02 L74.63,237.55 L75.37,238.09 L76.11,238.64 L76.85,239.20 L77.59,239.77 L78.33,240.35 L79.07,240.94 L79.81,241.54 L80.55,242.14 L81.29,242.76 L82.03,243.39 L82.77,244.02 L83.51,244.67 L84.25,245.32 L84.99,245.98 L85.73,246.65 L86.47,247.33 L87.21,248.01 L87.95,248.71 L88.68,249.41 L89.42,250.12 L90.16,250.83 L90.90,251.55 L91.64,252.28 L92.38,253.02 L93.12,253.77 L93.86,254.52 L94.60,255.27 L95.34,256.04 L96.08,256.81 L96.82,257.58 L97.56,258.36 L98.30,259.15 L99.04,259.94 L99.78,260.74 L100.52,261.54 L101.26,262.35 L102.00,263.16 L102.74,263.98 L103.48,264.80 L104.22,265.63 L104.96,266.46 L105.70,267.30 L106.44,268.14 L107.18,268.98 L107.92,269.83 L108.66,270.68 L109.40,271.54 L110.14,272.40 L110.88,273.26 L111.62,274.12 L112.36,274.99 L113.10,275.86 L113.84,276.73 L114.58,277.61 L115.32,278.49 L116.06,279.37 L116.80,280.25 L117.54,281.14 L118.27,282.03 L119.01,282.91 L119.75,283.81 L120.49,284.70 L121.23,285.59 L121.97,286.49 L122.71,287.38 L123.45,288.28 L124.19,289.18 L124.93,290.08 L125.67,290.98 L126.41,291.88 L127.15,292.78 L127.89,293.68 L128.63,294.58 L129.37,295.48 L130.11,296.38 L130.85,297.28 L131.59,298.18 L132.33,299.08 L133.07,299.98 L133.81,300.88 L134.55,301.78 L135.29,302.68 L136.03,303.57 L136.77,304.47 L137.51,305.36 L138.25,306.25 L138.99,307.15 L139.73,308.04 L140.47,308.92 L141.21,309.81 L141.95,310.70 L142.69,311.58 L143.43,312.46 L144.17,313.34 L144.91,314.22 L145.65,315.09 L146.39,315.96 L147.13,316.83 L147.86,317.70 L148.60,318.57 L149.34,319.43 L150.08,320.29 L150.82,321.14 L151.56,322.00 L152.30,322.85 L153.04,323.70 L153.78,324.54 L154.52,325.38 L155.26,326.22 L156.00,327.05 L156.74,327.88 L157.48,328.71 L158.22,329.53 L158.96,330.35 L159.70,331.17 L160.44,331.98 L161.18,332.79 L161.92,333.59 L162.66,334.39 L163.40,335.19 L164.14,335.98 L164.88,336.77 L165.62,337.55 L166.36,338.33 L167.10,339.10 L167.84,339.87 L168.58,340.64 L169.32,341.40 L170.06,342.16 L170.80,342.91 L171.54,343.66 L172.28,344.40 L173.02,345.14 L173.76,345.87 L174.50,346.60 L175.24,347.32 L175.98,348.04 L176.72,348.75 L177.45,349.46 L178.19,350.16 L178.93,350.86 L179.67,351.55 L180.41,352.24 L181.15,352.92 L181.89,353.60 L182.63,354.27 L183.37,354.94 L184.11,355.60 L184.85,356.26 L185.59,356.91 L186.33,357.55 L187.07,358.19 L187.81,358.83 L188.55,359.46 L189.29,360.08 L190.03,360.70 L190.77,361.31 L191.51,361.92 L192.25,362.52 L192.99,363.12 L193.73,363.71 L194.47,364.30 L195.21,364.88 L195.95,365.46 L196.69,366.03 L197.43,366.59 L198.17,367.15 L198.91,367.70 L199.65,368.25 L200.39,368.79 L201.13,369.33 L201.87,369.86 L202.61,370.39 L203.35,370.91 L204.09,371.42 L204.83,371.93 L205.57,372.44 L206.31,372.93 L207.04,373.43 L207.78,373.92 L208.52,374.40 L209.26,374.88 L210.00,375.35 L210.74,375.81 L211.48,376.28 L212.22,376.73 L212.96,377.18 L213.70,377.63 L214.44,378.07 L215.18,378.50 L215.92,378.93 L216.66,379.36 L217.40,379.78 L218.14,380.19 L218.88,380.60 L219.62,381.00 L220.36,381.40 L221.10,381.80 L221.84,382.19 L222.58,382.57 L223.32,382.95 L224.06,383.32 L224.80,383.69 L225.54,384.06 L226.28,384.42 L227.02,384.77 L227.76,385.12 L228.50,385.47 L229.24,385.81 L229.98,386.14 L230.72,386.48 L231.46,386.80 L232.20,387.12 L232.94,387.44 L233.68,387.76 L234.42,388.06 L235.16,388.37 L235.90,388.67 L236.63,388.96 L237.37,389.25 L238.11,389.54 L238.85,389.82 L239.59,390.10 L240.33,390.38 L241.07,390.65 L241.81,390.91 L242.55,391.17 L243.29,391.43 L244.03,391.69 L244.77,391.93 L245.51,392.18 L246.25,392.42 L246.99,392.66 L247.73,392.90 L248.47,393.13 L249.21,393.35 L249.95,393.58 L250.69,393.80 L251.43,394.01 L252.17,394.22 L252.91,394.43 L253.65,394.64 L254.39,394.84 L255.13,395.04 L255.87,395.23 L256.61,395.42 L257.35,395.61 L258.09,395.80 L258.83,395.98 L259.57,396.16 L260.31,396.33 L261.05,396.51 L261.79,396.68 L262.53,396.84 L263.27,397.01 L264.01,397.17 L264.75,397.32 L265.49,397.48 L266.22,397.63 L266.96,397.78 L267.70,397.93 L268.44,398.07 L269.18,398.21 L269.92,398.35 L270.66,398.48 L271.40,398.62 L272.14,398.75 L272.88,398.87 L273.62,399.00 L274.36,399.12 L275.10,399.24 L275.84,399.36 L276.58,399.48 L277.32,399.59 L278.06,399.70 L278.80,399.81 L279.54,399.92 L280.28,400.02 L281.02,400.13 L281.76,400.23 L282.50,400.33 L283.24,400.42 L283.98,400.52 L284.72,400.61 L285.46,400.70 L286.20,400.79 L286.94,400.88 L287.68,400.96 L288.42,401.04 L289.16,401.13 L289.90,401.20 L290.64,401.28 L291.38,401.36 L292.12,401.43 L292.86,401.51 L293.60,401.58 L294.34,401.65 L295.08,401.72 L295.81,401.78 L296.55,401.85 L297.29,401.91 L298.03,401.97 L298.77,402.03 L299.51,402.09 L300.25,402.15 L300.99,402.21 L301.73,402.26 L302.47,402.32 L303.21,402.37 L303.95,402.42 L304.69,402.47 L305.43,402.52 L306.17,402.57 L306.91,402.62 L307.65,402.66 L308.39,402.71 L309.13,402.75 L309.87,402.80 L310.61,402.84 L311.35,402.88 L312.09,402.92 L312.83,402.96 L313.57,402.99 L314.31,403.03 L315.05,403.07 L315.79,403.10 L316.53,403.14 L317.27,403.17 L318.01,403.20 L318.75,403.23 L319.49,403.26 L320.23,403.29 L320.97,403.32 L321.71,403.35 L322.45,403.38 L323.19,403.41 L323.93,403.43 L324.67,403.46 L325.40,403.48 L326.14,403.51 L326.88,403.53 L327.62,403.55 L328.36,403.58 L329.10,403.60 L329.84,403.62 L330.58,403.64 L331.32,403.66 L332.06,403.68 L332.80,403.70 L333.54,403.72 L334.28,403.73 L335.02,403.75 L335.76,403.77 L336.50,403.79 L337.24,403.80 L337.98,403.82 L338.72,403.83 L339.46,403.85 L340.20,403.86" stroke="#ff0000" stroke-dasharray="6.17 2.67"/>
</g>
<rect x="44.3" y="0.9" width="295.9" height="179.5" fill="none" stroke="#3d3d3d" stroke-width="1.3"/>
<rect x="44.3" y="224.9" width="295.9" height="179.4" fill="none" stroke="#3d3d3d" stroke-width="1.3"/>
<g stroke="#3d3d3d" stroke-width="1.3" fill="none">
<line x1="44.30" y1="180.4" x2="44.30" y2="183.9"/>
<line x1="77.18" y1="180.4" x2="77.18" y2="183.9"/>
<line x1="110.06" y1="180.4" x2="110.06" y2="183.9"/>
<line x1="142.93" y1="180.4" x2="142.93" y2="183.9"/>
<line x1="175.81" y1="180.4" x2="175.81" y2="183.9"/>
<line x1="208.69" y1="180.4" x2="208.69" y2="183.9"/>
<line x1="241.57" y1="180.4" x2="241.57" y2="183.9"/>
<line x1="274.44" y1="180.4" x2="274.44" y2="183.9"/>
<line x1="307.32" y1="180.4" x2="307.32" y2="183.9"/>
<line x1="340.20" y1="180.4" x2="340.20" y2="183.9"/>
<line x1="40.3" y1="15.05" x2="44.3" y2="15.05"/>
<line x1="40.3" y1="49.80" x2="44.3" y2="49.80"/>
<line x1="40.3" y1="84.55" x2="44.3" y2="84.55"/>
<line x1="40.3" y1="119.30" x2="44.3" y2="119.30"/>
<line x1="40.3" y1="154.05" x2="44.3" y2="154.05"/>
<line x1="44.30" y1="404.3" x2="44.30" y2="407.8"/>
<line x1="81.29" y1="404.3" x2="81.29" y2="407.8"/>
<line x1="118.27" y1="404.3" x2="118.27" y2="407.8"/>
<line x1="155.26" y1="404.3" x2="155.26" y2="407.8"/>
<line x1="192.25" y1="404.3" x2="192.25" y2="407.8"/>
<line x1="229.24" y1="404.3" x2="229.24" y2="407.8"/>
<line x1="266.22" y1="404.3" x2="266.22" y2="407.8"/>
<line x1="303.21" y1="404.3" x2="303.21" y2="407.8"/>
<line x1="340.20" y1="404.3" x2="340.20" y2="407.8"/>
<line x1="40.3" y1="404.30" x2="44.3" y2="404.30"/>
<line x1="40.3" y1="368.76" x2="44.3" y2="368.76"/>
<line x1="40.3" y1="333.22" x2="44.3" y2="333.22"/>
<line x1="40.3" y1="297.68" x2="44.3" y2="297.68"/>
<line x1="40.3" y1="262.14" x2="44.3" y2="262.14"/>
<line x1="40.3" y1="226.60" x2="44.3" y2="226.60"/>
</g>
<g font-size="9.55px" fill="#000000" stroke="#000000" stroke-width="0.22">
<text x="44.30" y="195.00" text-anchor="middle">0</text>
<text x="77.18" y="195.00" text-anchor="middle">20</text>
<text x="110.06" y="195.00" text-anchor="middle">40</text>
<text x="142.93" y="195.00" text-anchor="middle">60</text>
<text x="175.81" y="195.00" text-anchor="middle">80</text>
<text x="208.69" y="195.00" text-anchor="middle">100</text>
<text x="241.57" y="195.00" text-anchor="middle">120</text>
<text x="274.44" y="195.00" text-anchor="middle">140</text>
<text x="307.32" y="195.00" text-anchor="middle">160</text>
<text x="340.20" y="195.00" text-anchor="middle">180</text>
<text x="36.80" y="18.60" text-anchor="end">0</text>
<text x="36.80" y="53.35" text-anchor="end">−20</text>
<text x="36.80" y="88.10" text-anchor="end">−40</text>
<text x="36.80" y="122.85" text-anchor="end">−60</text>
<text x="36.80" y="157.60" text-anchor="end">−80</text>
<text x="44.30" y="419.80" text-anchor="middle">0</text>
<text x="81.29" y="419.80" text-anchor="middle">200</text>
<text x="118.27" y="419.80" text-anchor="middle">400</text>
<text x="155.26" y="419.80" text-anchor="middle">600</text>
<text x="192.25" y="419.80" text-anchor="middle">800</text>
<text x="229.24" y="419.80" text-anchor="middle">1000</text>
<text x="266.22" y="419.80" text-anchor="middle">1200</text>
<text x="303.21" y="419.80" text-anchor="middle">1400</text>
<text x="340.20" y="419.80" text-anchor="middle">1600</text>
<text x="36.80" y="408.15" text-anchor="end">0.0</text>
<text x="36.80" y="372.61" text-anchor="end">0.2</text>
<text x="36.80" y="337.07" text-anchor="end">0.4</text>
<text x="36.80" y="301.53" text-anchor="end">0.6</text>
<text x="36.80" y="265.99" text-anchor="end">0.8</text>
<text x="36.80" y="230.45" text-anchor="end">1.0</text>
</g>
<g font-size="11.7px" fill="#000000" stroke="#000000" stroke-width="0.22">
<text x="192.25" y="210.8" text-anchor="middle">Angle [arcmins]</text>
<text transform="translate(11.3,90.65) rotate(-90)" text-anchor="middle">Beam power [dB]</text>
<text x="192.25" y="434.1" text-anchor="middle">Multipole, <tspan font-style="italic">ℓ</tspan></text>
</g>
<text transform="translate(14.2,315.10) rotate(-90)" text-anchor="middle" font-size="16px" font-style="italic" fill="#000" stroke="#000" stroke-width="0.22">B<tspan font-size="11.5px" dy="2.8" dx="-0.6">ℓ</tspan></text>
<g font-size="10px" fill="#000000" stroke-width="0.22">
<line x1="226.6" y1="13.6" x2="247.0" y2="13.6" stroke="#ff7f0e" stroke-width="1.67"/>
<text x="254.1" y="17.20" stroke="#000">93 GHz,<tspan dx="1.3">center</tspan></text>
<line x1="226.6" y1="27.5" x2="247.0" y2="27.5" stroke="#0000ff" stroke-width="1.67"/>
<text x="254.1" y="31.10" stroke="#000">145 GHz,<tspan dx="1.3">center</tspan></text>
<line x1="226.6" y1="41.4" x2="247.0" y2="41.4" stroke="#008000" stroke-width="1.67"/>
<text x="254.1" y="45.00" stroke="#000">225 GHz, center</text>
<line x1="226.6" y1="55.3" x2="247.0" y2="55.3" stroke="#ff0000" stroke-width="1.67"/>
<text x="254.1" y="58.90" stroke="#000">280 GHz, center</text>
<line x1="52.7" y1="124.6" x2="72.7" y2="124.6" stroke="#ff7f0e" stroke-width="1.67" stroke-dasharray="6.17 2.67"/>
<text x="79.3" y="128.10" font-size="9.55px" stroke="#000">93 GHz, edge</text>
<line x1="52.7" y1="138.6" x2="72.7" y2="138.6" stroke="#0000ff" stroke-width="1.67" stroke-dasharray="6.17 2.67"/>
<text x="79.3" y="142.10" font-size="9.55px" stroke="#000">145 GHz, edge</text>
<line x1="52.7" y1="152.6" x2="72.7" y2="152.6" stroke="#008000" stroke-width="1.67" stroke-dasharray="6.17 2.67"/>
<text x="79.3" y="156.10" font-size="9.55px" stroke="#000">225 GHz, edge</text>
<line x1="52.7" y1="166.5" x2="72.7" y2="166.5" stroke="#ff0000" stroke-width="1.67" stroke-dasharray="6.17 2.67"/>
<text x="79.3" y="170.00" font-size="9.55px" stroke="#000">280 GHz, edge</text>
</g>
</svg>
</body></html>
